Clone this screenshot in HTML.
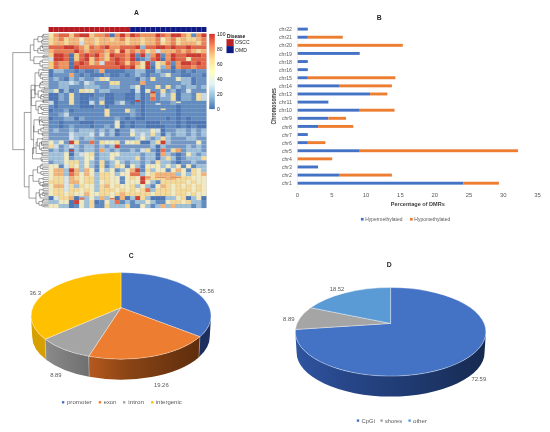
<!DOCTYPE html>
<html lang="en"><head><meta charset="utf-8"><title>Figure</title>
<style>html,body{margin:0;padding:0;background:#fff;}body{width:550px;height:432px;overflow:hidden;}svg{display:block;font-family:"Liberation Sans",sans-serif;}.t{fill:#595959;font-size:5.9px;}.b{font-weight:bold;fill:#262626;}</style></head><body>
<svg width="550" height="432" viewBox="0 0 550 432">
<defs>
<filter id="soft" x="-2%" y="-2%" width="104%" height="104%"><feGaussianBlur stdDeviation="0.45"/></filter>
<linearGradient id="cb" x1="0" y1="0" x2="0" y2="1"><stop offset="0" stop-color="#d73027"/><stop offset="0.167" stop-color="#fc8d59"/><stop offset="0.333" stop-color="#fee090"/><stop offset="0.5" stop-color="#ffffbf"/><stop offset="0.667" stop-color="#e0f3f8"/><stop offset="0.833" stop-color="#91bfdb"/><stop offset="1" stop-color="#4575b4"/></linearGradient>
<linearGradient id="gOr" x1="0" y1="0" x2="1" y2="0"><stop offset="0" stop-color="#b5591d"/><stop offset="0.35" stop-color="#8a4415"/><stop offset="1" stop-color="#5e2d0d"/></linearGradient>
<linearGradient id="gBl" x1="0" y1="0" x2="1" y2="0"><stop offset="0" stop-color="#2f55a0"/><stop offset="0.25" stop-color="#27478a"/><stop offset="0.75" stop-color="#1c3566"/><stop offset="1" stop-color="#16294f"/></linearGradient>
<linearGradient id="gGr" x1="0" y1="0" x2="1" y2="0"><stop offset="0" stop-color="#8a8a8a"/><stop offset="1" stop-color="#6f6f6f"/></linearGradient>
</defs>
<rect width="550" height="432" fill="#fff"/>
<g id="panelA">
<text x="136.4" y="14.7" text-anchor="middle" class="b" font-size="6.8">A</text>
<path d="M48.60 34.38H43.33V36.35H48.60M43.33 35.37H42.31V37.99H48.60M48.60 39.34H42.79V41.31H48.60M42.79 40.32H41.65V43.24H48.60M42.31 36.68H37.90V41.78H41.65M48.60 46.44H42.48V48.10H48.60M48.60 44.80H41.99V47.27H42.48M48.60 49.78H43.05V51.15H48.60M41.99 46.03H40.20V50.47H43.05M40.20 48.25H37.90V53.09H48.60M37.90 39.23H33.90V50.67H37.90M48.60 55.15H43.86V56.52H48.60M43.86 55.83H42.95V57.87H48.60M48.60 59.95H42.21V62.40H48.60M48.60 64.85H42.20V67.30H48.60M42.21 61.17H39.98V66.07H42.20M42.95 56.85H33.90V63.62H39.98M33.90 44.95H30.30V60.24H33.90M48.60 68.92H42.74V70.40H48.60M48.60 72.58H41.22V75.01H48.60M48.60 77.33H42.33V79.33H48.60M41.22 73.80H40.27V78.33H42.33M42.74 69.66H38.81V76.06H40.27M48.60 81.25H42.47V83.10H48.60M42.47 82.17H40.77V84.93H48.60M48.60 87.08H44.13V88.62H48.60M40.77 83.55H39.71V87.85H44.13M48.60 91.09H43.31V92.66H48.60M48.60 89.85H41.71V91.87H43.31M48.60 95.77H43.69V97.43H48.60M48.60 94.39H41.66V96.60H43.69M41.66 95.49H40.62V99.00H48.60M41.71 90.86H38.11V97.25H40.62M39.71 85.70H34.92V94.05H38.11M48.60 101.11H42.95V102.60H48.60M48.60 100.24H43.16V101.86H42.95M48.60 108.57H43.20V110.47H48.60M48.60 106.69H41.46V109.52H43.20M48.60 104.70H40.07V108.11H41.46M48.60 112.45H42.20V114.55H48.60M40.07 106.40H38.17V113.50H42.20M43.16 101.05H35.92V109.95H38.17M34.92 89.88H31.28V105.50H35.92M38.81 72.86H35.00V97.69H31.28M48.60 120.63H42.63V122.58H48.60M48.60 119.01H41.13V121.60H42.63M48.60 124.32H43.07V125.71H48.60M41.13 120.31H39.54V125.02H43.07M48.60 117.03H39.23V122.66H39.54M48.60 127.29H43.18V129.20H48.60M43.18 128.24H40.85V131.17H48.60M48.60 134.02H42.75V135.82H48.60M48.60 132.79H42.26V134.92H42.75M40.85 129.71H38.31V133.86H42.26M39.23 119.85H33.98V131.78H38.31M48.60 137.90H42.40V139.73H48.60M48.60 144.40H42.99V145.87H48.60M48.60 142.94H41.48V145.13H42.99M48.60 141.40H41.46V144.04H41.48M48.60 147.29H43.38V148.65H48.60M43.38 147.97H41.15V150.51H48.60M41.46 142.72H39.45V149.24H41.15M42.40 138.81H37.27V145.98H39.45M48.60 153.84H42.21V155.67H48.60M48.60 152.23H41.79V154.76H42.21M37.27 142.40H36.10V153.49H41.79M48.60 159.22H42.14V161.66H48.60M48.60 157.31H41.17V160.44H42.14M36.10 147.94H32.50V158.87H41.17M33.98 125.81H33.60V153.41H32.50M35.00 85.27H31.00V139.61H33.60M48.60 164.03H41.93V166.09H48.60M48.60 167.71H42.59V169.39H48.60M41.93 165.06H40.37V168.55H42.59M48.60 173.33H43.12V175.32H48.60M48.60 171.56H40.87V174.32H43.12M40.37 166.80H37.46V172.94H40.87M48.60 177.68H43.06V179.63H48.60M48.60 181.51H43.50V183.32H48.60M48.60 185.39H43.02V186.74H48.60M48.60 184.58H42.22V186.06H43.02M43.50 182.41H40.04V185.32H42.22M43.06 178.66H38.95V183.87H40.04M37.46 169.87H33.00V181.26H38.95M48.60 188.72H43.06V190.67H48.60M48.60 192.12H43.33V193.48H48.60M48.60 194.71H44.34V196.07H48.60M43.33 192.80H42.26V195.39H44.34M42.26 194.10H40.14V197.98H48.60M43.06 189.70H39.33V196.04H40.14M48.60 199.31H43.24V201.02H48.60M43.24 200.17H42.29V202.87H48.60M48.60 205.41H43.84V206.89H48.60M48.60 204.24H41.84V206.15H43.84M42.29 201.52H38.95V205.20H41.84M39.33 192.87H36.00V203.36H38.95M33.00 175.57H29.00V198.11H36.00M31.00 112.44H24.30V186.84H29.00M30.30 52.59H12.80V149.64H24.30" stroke="#2e2e2e" stroke-width="0.5" fill="none" stroke-opacity="0.9"/>
<g><rect x="48.60" y="27" width="5.14" height="5" fill="#b81c22"/><rect x="53.69" y="27" width="5.14" height="5" fill="#b81c22"/><rect x="58.78" y="27" width="5.14" height="5" fill="#b81c22"/><rect x="63.87" y="27" width="5.14" height="5" fill="#b81c22"/><rect x="68.96" y="27" width="5.14" height="5" fill="#b81c22"/><rect x="74.05" y="27" width="5.14" height="5" fill="#b81c22"/><rect x="79.14" y="27" width="5.14" height="5" fill="#b81c22"/><rect x="84.23" y="27" width="5.14" height="5" fill="#b81c22"/><rect x="89.32" y="27" width="5.14" height="5" fill="#b81c22"/><rect x="94.41" y="27" width="5.14" height="5" fill="#b81c22"/><rect x="99.50" y="27" width="5.14" height="5" fill="#b81c22"/><rect x="104.59" y="27" width="5.14" height="5" fill="#b81c22"/><rect x="109.68" y="27" width="5.14" height="5" fill="#b81c22"/><rect x="114.77" y="27" width="5.14" height="5" fill="#b81c22"/><rect x="119.86" y="27" width="5.14" height="5" fill="#b81c22"/><rect x="124.95" y="27" width="5.14" height="5" fill="#b81c22"/><rect x="130.05" y="27" width="5.14" height="5" fill="#0e1a86"/><rect x="135.14" y="27" width="5.14" height="5" fill="#0e1a86"/><rect x="140.23" y="27" width="5.14" height="5" fill="#0e1a86"/><rect x="145.32" y="27" width="5.14" height="5" fill="#0e1a86"/><rect x="150.41" y="27" width="5.14" height="5" fill="#0e1a86"/><rect x="155.50" y="27" width="5.14" height="5" fill="#0e1a86"/><rect x="160.59" y="27" width="5.14" height="5" fill="#0e1a86"/><rect x="165.68" y="27" width="5.14" height="5" fill="#0e1a86"/><rect x="170.77" y="27" width="5.14" height="5" fill="#0e1a86"/><rect x="175.86" y="27" width="5.14" height="5" fill="#0e1a86"/><rect x="180.95" y="27" width="5.14" height="5" fill="#0e1a86"/><rect x="186.04" y="27" width="5.14" height="5" fill="#0e1a86"/><rect x="191.13" y="27" width="5.14" height="5" fill="#0e1a86"/><rect x="196.22" y="27" width="5.14" height="5" fill="#0e1a86"/><rect x="201.31" y="27" width="5.14" height="5" fill="#0e1a86"/><path d="M53.69 27V32M58.78 27V32M63.87 27V32M68.96 27V32M74.05 27V32M79.14 27V32M84.23 27V32M89.32 27V32M94.41 27V32M99.50 27V32M104.59 27V32M109.68 27V32M114.77 27V32M119.86 27V32M124.95 27V32M130.05 27V32M135.14 27V32M140.23 27V32M145.32 27V32M150.41 27V32M155.50 27V32M160.59 27V32M165.68 27V32M170.77 27V32M175.86 27V32M180.95 27V32M186.04 27V32M191.13 27V32M196.22 27V32M201.31 27V32" stroke="#c9a0a8" stroke-width="0.4" stroke-opacity="0.6" fill="none"/></g>
<g filter="url(#soft)"><rect x="48.60" y="33.40" width="5.14" height="4.02" fill="#faeaac"/><rect x="53.69" y="33.40" width="5.14" height="4.02" fill="#f79258"/><rect x="58.78" y="33.40" width="10.23" height="4.02" fill="#e96240"/><rect x="68.96" y="33.40" width="5.14" height="4.02" fill="#fcce7e"/><rect x="74.05" y="33.40" width="5.14" height="4.02" fill="#e96240"/><rect x="79.14" y="33.40" width="10.23" height="4.02" fill="#d23228"/><rect x="89.32" y="33.40" width="5.14" height="4.02" fill="#fcce7e"/><rect x="94.41" y="33.40" width="10.23" height="4.02" fill="#f79258"/><rect x="104.59" y="33.40" width="5.14" height="4.02" fill="#e96240"/><rect x="109.68" y="33.40" width="5.14" height="4.02" fill="#4673b6"/><rect x="114.77" y="33.40" width="5.14" height="4.02" fill="#f79258"/><rect x="119.86" y="33.40" width="5.14" height="4.02" fill="#d23228"/><rect x="124.95" y="33.40" width="5.14" height="4.02" fill="#f79258"/><rect x="130.05" y="33.40" width="5.14" height="4.02" fill="#d23228"/><rect x="135.14" y="33.40" width="5.14" height="4.02" fill="#e96240"/><rect x="140.23" y="33.40" width="15.32" height="4.02" fill="#f79258"/><rect x="155.50" y="33.40" width="5.14" height="4.02" fill="#d23228"/><rect x="160.59" y="33.40" width="5.14" height="4.02" fill="#e96240"/><rect x="165.68" y="33.40" width="5.14" height="4.02" fill="#f79258"/><rect x="170.77" y="33.40" width="10.23" height="4.02" fill="#d23228"/><rect x="180.95" y="33.40" width="5.14" height="4.02" fill="#f79258"/><rect x="186.04" y="33.40" width="5.14" height="4.02" fill="#fcce7e"/><rect x="191.13" y="33.40" width="5.14" height="4.02" fill="#5c8ac4"/><rect x="196.22" y="33.40" width="5.14" height="4.02" fill="#f79258"/><rect x="201.31" y="33.40" width="5.14" height="4.02" fill="#d23228"/><rect x="48.60" y="37.37" width="5.14" height="4.02" fill="#fcdc94"/><rect x="53.69" y="37.37" width="5.14" height="4.02" fill="#fab674"/><rect x="58.78" y="37.37" width="5.14" height="4.02" fill="#f07d50"/><rect x="63.87" y="37.37" width="5.14" height="4.02" fill="#fcdc94"/><rect x="68.96" y="37.37" width="10.23" height="4.02" fill="#fab674"/><rect x="79.14" y="37.37" width="5.14" height="4.02" fill="#faf0be"/><rect x="84.23" y="37.37" width="10.23" height="4.02" fill="#fab674"/><rect x="94.41" y="37.37" width="5.14" height="4.02" fill="#fcdc94"/><rect x="99.50" y="37.37" width="10.23" height="4.02" fill="#fab674"/><rect x="109.68" y="37.37" width="5.14" height="4.02" fill="#fcdc94"/><rect x="114.77" y="37.37" width="5.14" height="4.02" fill="#fab674"/><rect x="119.86" y="37.37" width="5.14" height="4.02" fill="#f07d50"/><rect x="124.95" y="37.37" width="5.14" height="4.02" fill="#fcdc94"/><rect x="130.05" y="37.37" width="10.23" height="4.02" fill="#fab674"/><rect x="140.23" y="37.37" width="5.14" height="4.02" fill="#fcdc94"/><rect x="145.32" y="37.37" width="10.23" height="4.02" fill="#fab674"/><rect x="155.50" y="37.37" width="5.14" height="4.02" fill="#f07d50"/><rect x="160.59" y="37.37" width="5.14" height="4.02" fill="#faf0be"/><rect x="165.68" y="37.37" width="5.14" height="4.02" fill="#fab674"/><rect x="170.77" y="37.37" width="5.14" height="4.02" fill="#f07d50"/><rect x="175.86" y="37.37" width="5.14" height="4.02" fill="#fcdc94"/><rect x="180.95" y="37.37" width="5.14" height="4.02" fill="#fab674"/><rect x="186.04" y="37.37" width="10.23" height="4.02" fill="#fcdc94"/><rect x="196.22" y="37.37" width="5.14" height="4.02" fill="#fab674"/><rect x="201.31" y="37.37" width="5.14" height="4.02" fill="#f07d50"/><rect x="48.60" y="41.34" width="5.14" height="4.02" fill="#fcdc94"/><rect x="53.69" y="41.34" width="10.23" height="4.02" fill="#fab674"/><rect x="63.87" y="41.34" width="5.14" height="4.02" fill="#fcdc94"/><rect x="68.96" y="41.34" width="10.23" height="4.02" fill="#fab674"/><rect x="79.14" y="41.34" width="5.14" height="4.02" fill="#d0e3ec"/><rect x="84.23" y="41.34" width="10.23" height="4.02" fill="#fab674"/><rect x="94.41" y="41.34" width="5.14" height="4.02" fill="#fcdc94"/><rect x="99.50" y="41.34" width="25.50" height="4.02" fill="#fab674"/><rect x="124.95" y="41.34" width="5.14" height="4.02" fill="#fcdc94"/><rect x="130.05" y="41.34" width="10.23" height="4.02" fill="#fab674"/><rect x="140.23" y="41.34" width="5.14" height="4.02" fill="#fcdc94"/><rect x="145.32" y="41.34" width="10.23" height="4.02" fill="#fab674"/><rect x="155.50" y="41.34" width="5.14" height="4.02" fill="#f07d50"/><rect x="160.59" y="41.34" width="5.14" height="4.02" fill="#fcdc94"/><rect x="165.68" y="41.34" width="5.14" height="4.02" fill="#fab674"/><rect x="170.77" y="41.34" width="5.14" height="4.02" fill="#f07d50"/><rect x="175.86" y="41.34" width="5.14" height="4.02" fill="#fcdc94"/><rect x="180.95" y="41.34" width="15.32" height="4.02" fill="#fab674"/><rect x="196.22" y="41.34" width="5.14" height="4.02" fill="#fcdc94"/><rect x="201.31" y="41.34" width="5.14" height="4.02" fill="#f07d50"/><rect x="48.60" y="45.30" width="15.32" height="4.02" fill="#e96240"/><rect x="63.87" y="45.30" width="10.23" height="4.02" fill="#d23228"/><rect x="74.05" y="45.30" width="5.14" height="4.02" fill="#e96240"/><rect x="79.14" y="45.30" width="5.14" height="4.02" fill="#f79258"/><rect x="84.23" y="45.30" width="5.14" height="4.02" fill="#fcce7e"/><rect x="89.32" y="45.30" width="5.14" height="4.02" fill="#e96240"/><rect x="94.41" y="45.30" width="5.14" height="4.02" fill="#f79258"/><rect x="99.50" y="45.30" width="5.14" height="4.02" fill="#e96240"/><rect x="104.59" y="45.30" width="5.14" height="4.02" fill="#d23228"/><rect x="109.68" y="45.30" width="10.23" height="4.02" fill="#f79258"/><rect x="119.86" y="45.30" width="15.32" height="4.02" fill="#e96240"/><rect x="135.14" y="45.30" width="5.14" height="4.02" fill="#d23228"/><rect x="140.23" y="45.30" width="5.14" height="4.02" fill="#8eb6d8"/><rect x="145.32" y="45.30" width="10.23" height="4.02" fill="#e96240"/><rect x="155.50" y="45.30" width="10.23" height="4.02" fill="#d23228"/><rect x="165.68" y="45.30" width="5.14" height="4.02" fill="#e96240"/><rect x="170.77" y="45.30" width="5.14" height="4.02" fill="#d23228"/><rect x="175.86" y="45.30" width="10.23" height="4.02" fill="#e96240"/><rect x="186.04" y="45.30" width="5.14" height="4.02" fill="#d23228"/><rect x="191.13" y="45.30" width="15.32" height="4.02" fill="#e96240"/><rect x="48.60" y="49.27" width="5.14" height="4.02" fill="#fab674"/><rect x="53.69" y="49.27" width="20.41" height="4.02" fill="#f07d50"/><rect x="74.05" y="49.27" width="5.14" height="4.02" fill="#d23228"/><rect x="79.14" y="49.27" width="5.14" height="4.02" fill="#f07d50"/><rect x="84.23" y="49.27" width="5.14" height="4.02" fill="#fab674"/><rect x="89.32" y="49.27" width="15.32" height="4.02" fill="#f07d50"/><rect x="104.59" y="49.27" width="5.14" height="4.02" fill="#fab674"/><rect x="109.68" y="49.27" width="5.14" height="4.02" fill="#f07d50"/><rect x="114.77" y="49.27" width="5.14" height="4.02" fill="#fcdc94"/><rect x="119.86" y="49.27" width="5.14" height="4.02" fill="#d23228"/><rect x="124.95" y="49.27" width="5.14" height="4.02" fill="#fab674"/><rect x="130.05" y="49.27" width="5.14" height="4.02" fill="#f07d50"/><rect x="135.14" y="49.27" width="5.14" height="4.02" fill="#fab674"/><rect x="140.23" y="49.27" width="5.14" height="4.02" fill="#f07d50"/><rect x="145.32" y="49.27" width="5.14" height="4.02" fill="#fcdc94"/><rect x="150.41" y="49.27" width="5.14" height="4.02" fill="#fab674"/><rect x="155.50" y="49.27" width="5.14" height="4.02" fill="#d0e3ec"/><rect x="160.59" y="49.27" width="15.32" height="4.02" fill="#fab674"/><rect x="175.86" y="49.27" width="5.14" height="4.02" fill="#f07d50"/><rect x="180.95" y="49.27" width="5.14" height="4.02" fill="#fab674"/><rect x="186.04" y="49.27" width="5.14" height="4.02" fill="#f07d50"/><rect x="191.13" y="49.27" width="5.14" height="4.02" fill="#fab674"/><rect x="196.22" y="49.27" width="5.14" height="4.02" fill="#fcdc94"/><rect x="201.31" y="49.27" width="5.14" height="4.02" fill="#fab674"/><rect x="48.60" y="53.24" width="5.14" height="4.02" fill="#fcce7e"/><rect x="53.69" y="53.24" width="10.23" height="4.02" fill="#d23228"/><rect x="63.87" y="53.24" width="5.14" height="4.02" fill="#e96240"/><rect x="68.96" y="53.24" width="5.14" height="4.02" fill="#4673b6"/><rect x="74.05" y="53.24" width="5.14" height="4.02" fill="#fcce7e"/><rect x="79.14" y="53.24" width="5.14" height="4.02" fill="#e96240"/><rect x="84.23" y="53.24" width="5.14" height="4.02" fill="#d23228"/><rect x="89.32" y="53.24" width="5.14" height="4.02" fill="#e96240"/><rect x="94.41" y="53.24" width="5.14" height="4.02" fill="#d23228"/><rect x="99.50" y="53.24" width="5.14" height="4.02" fill="#f79258"/><rect x="104.59" y="53.24" width="5.14" height="4.02" fill="#fcce7e"/><rect x="109.68" y="53.24" width="5.14" height="4.02" fill="#d23228"/><rect x="114.77" y="53.24" width="10.23" height="4.02" fill="#e96240"/><rect x="124.95" y="53.24" width="5.14" height="4.02" fill="#f79258"/><rect x="130.05" y="53.24" width="5.14" height="4.02" fill="#d23228"/><rect x="135.14" y="53.24" width="5.14" height="4.02" fill="#5c8ac4"/><rect x="140.23" y="53.24" width="5.14" height="4.02" fill="#d23228"/><rect x="145.32" y="53.24" width="5.14" height="4.02" fill="#8eb6d8"/><rect x="150.41" y="53.24" width="5.14" height="4.02" fill="#f79258"/><rect x="155.50" y="53.24" width="5.14" height="4.02" fill="#d23228"/><rect x="160.59" y="53.24" width="5.14" height="4.02" fill="#5c8ac4"/><rect x="165.68" y="53.24" width="5.14" height="4.02" fill="#f79258"/><rect x="170.77" y="53.24" width="5.14" height="4.02" fill="#d23228"/><rect x="175.86" y="53.24" width="10.23" height="4.02" fill="#e96240"/><rect x="186.04" y="53.24" width="15.32" height="4.02" fill="#d23228"/><rect x="201.31" y="53.24" width="5.14" height="4.02" fill="#e96240"/><rect x="48.60" y="57.21" width="5.14" height="4.02" fill="#d0e3ec"/><rect x="53.69" y="57.21" width="10.23" height="4.02" fill="#d23228"/><rect x="63.87" y="57.21" width="5.14" height="4.02" fill="#e96240"/><rect x="68.96" y="57.21" width="5.14" height="4.02" fill="#4673b6"/><rect x="74.05" y="57.21" width="5.14" height="4.02" fill="#fcce7e"/><rect x="79.14" y="57.21" width="5.14" height="4.02" fill="#e96240"/><rect x="84.23" y="57.21" width="5.14" height="4.02" fill="#d23228"/><rect x="89.32" y="57.21" width="5.14" height="4.02" fill="#fcce7e"/><rect x="94.41" y="57.21" width="5.14" height="4.02" fill="#e96240"/><rect x="99.50" y="57.21" width="5.14" height="4.02" fill="#f79258"/><rect x="104.59" y="57.21" width="5.14" height="4.02" fill="#fcce7e"/><rect x="109.68" y="57.21" width="5.14" height="4.02" fill="#e96240"/><rect x="114.77" y="57.21" width="5.14" height="4.02" fill="#d23228"/><rect x="119.86" y="57.21" width="5.14" height="4.02" fill="#e96240"/><rect x="124.95" y="57.21" width="5.14" height="4.02" fill="#f79258"/><rect x="130.05" y="57.21" width="5.14" height="4.02" fill="#d23228"/><rect x="135.14" y="57.21" width="5.14" height="4.02" fill="#4673b6"/><rect x="140.23" y="57.21" width="5.14" height="4.02" fill="#5c8ac4"/><rect x="145.32" y="57.21" width="5.14" height="4.02" fill="#8eb6d8"/><rect x="150.41" y="57.21" width="5.14" height="4.02" fill="#e96240"/><rect x="155.50" y="57.21" width="5.14" height="4.02" fill="#d23228"/><rect x="160.59" y="57.21" width="5.14" height="4.02" fill="#4673b6"/><rect x="165.68" y="57.21" width="5.14" height="4.02" fill="#f79258"/><rect x="170.77" y="57.21" width="5.14" height="4.02" fill="#d23228"/><rect x="175.86" y="57.21" width="10.23" height="4.02" fill="#e96240"/><rect x="186.04" y="57.21" width="5.14" height="4.02" fill="#faeaac"/><rect x="191.13" y="57.21" width="15.32" height="4.02" fill="#e96240"/><rect x="48.60" y="61.18" width="5.14" height="4.02" fill="#fcce7e"/><rect x="53.69" y="61.18" width="5.14" height="4.02" fill="#e96240"/><rect x="58.78" y="61.18" width="10.23" height="4.02" fill="#f79258"/><rect x="68.96" y="61.18" width="5.14" height="4.02" fill="#4673b6"/><rect x="74.05" y="61.18" width="5.14" height="4.02" fill="#e96240"/><rect x="79.14" y="61.18" width="5.14" height="4.02" fill="#d23228"/><rect x="84.23" y="61.18" width="5.14" height="4.02" fill="#e96240"/><rect x="89.32" y="61.18" width="5.14" height="4.02" fill="#fcce7e"/><rect x="94.41" y="61.18" width="5.14" height="4.02" fill="#f79258"/><rect x="99.50" y="61.18" width="5.14" height="4.02" fill="#d0e3ec"/><rect x="104.59" y="61.18" width="10.23" height="4.02" fill="#e96240"/><rect x="114.77" y="61.18" width="5.14" height="4.02" fill="#d23228"/><rect x="119.86" y="61.18" width="5.14" height="4.02" fill="#e96240"/><rect x="124.95" y="61.18" width="5.14" height="4.02" fill="#fcce7e"/><rect x="130.05" y="61.18" width="5.14" height="4.02" fill="#e96240"/><rect x="135.14" y="61.18" width="5.14" height="4.02" fill="#f79258"/><rect x="140.23" y="61.18" width="5.14" height="4.02" fill="#faeaac"/><rect x="145.32" y="61.18" width="5.14" height="4.02" fill="#d23228"/><rect x="150.41" y="61.18" width="5.14" height="4.02" fill="#5c8ac4"/><rect x="155.50" y="61.18" width="5.14" height="4.02" fill="#faeaac"/><rect x="160.59" y="61.18" width="5.14" height="4.02" fill="#fcce7e"/><rect x="165.68" y="61.18" width="5.14" height="4.02" fill="#e96240"/><rect x="170.77" y="61.18" width="5.14" height="4.02" fill="#5c8ac4"/><rect x="175.86" y="61.18" width="5.14" height="4.02" fill="#f79258"/><rect x="180.95" y="61.18" width="10.23" height="4.02" fill="#d23228"/><rect x="191.13" y="61.18" width="5.14" height="4.02" fill="#e96240"/><rect x="196.22" y="61.18" width="5.14" height="4.02" fill="#d23228"/><rect x="201.31" y="61.18" width="5.14" height="4.02" fill="#e96240"/><rect x="48.60" y="65.15" width="5.14" height="4.02" fill="#fcce7e"/><rect x="53.69" y="65.15" width="5.14" height="4.02" fill="#e96240"/><rect x="58.78" y="65.15" width="10.23" height="4.02" fill="#f79258"/><rect x="68.96" y="65.15" width="5.14" height="4.02" fill="#4673b6"/><rect x="74.05" y="65.15" width="5.14" height="4.02" fill="#d23228"/><rect x="79.14" y="65.15" width="40.77" height="4.02" fill="#e96240"/><rect x="119.86" y="65.15" width="5.14" height="4.02" fill="#d23228"/><rect x="124.95" y="65.15" width="5.14" height="4.02" fill="#e96240"/><rect x="130.05" y="65.15" width="5.14" height="4.02" fill="#d23228"/><rect x="135.14" y="65.15" width="5.14" height="4.02" fill="#fcce7e"/><rect x="140.23" y="65.15" width="5.14" height="4.02" fill="#faeaac"/><rect x="145.32" y="65.15" width="5.14" height="4.02" fill="#d23228"/><rect x="150.41" y="65.15" width="5.14" height="4.02" fill="#4673b6"/><rect x="155.50" y="65.15" width="5.14" height="4.02" fill="#faeaac"/><rect x="160.59" y="65.15" width="5.14" height="4.02" fill="#8eb6d8"/><rect x="165.68" y="65.15" width="5.14" height="4.02" fill="#f79258"/><rect x="170.77" y="65.15" width="5.14" height="4.02" fill="#4673b6"/><rect x="175.86" y="65.15" width="5.14" height="4.02" fill="#f79258"/><rect x="180.95" y="65.15" width="10.23" height="4.02" fill="#e96240"/><rect x="191.13" y="65.15" width="5.14" height="4.02" fill="#f79258"/><rect x="196.22" y="65.15" width="10.23" height="4.02" fill="#e96240"/><rect x="48.60" y="69.11" width="5.14" height="4.02" fill="#4c78b9"/><rect x="53.69" y="69.11" width="10.23" height="4.02" fill="#9abfdd"/><rect x="63.87" y="69.11" width="10.23" height="4.02" fill="#6893c8"/><rect x="74.05" y="69.11" width="5.14" height="4.02" fill="#4c78b9"/><rect x="79.14" y="69.11" width="5.14" height="4.02" fill="#6893c8"/><rect x="84.23" y="69.11" width="10.23" height="4.02" fill="#4c78b9"/><rect x="94.41" y="69.11" width="5.14" height="4.02" fill="#6893c8"/><rect x="99.50" y="69.11" width="5.14" height="4.02" fill="#faa666"/><rect x="104.59" y="69.11" width="20.41" height="4.02" fill="#4c78b9"/><rect x="124.95" y="69.11" width="10.23" height="4.02" fill="#6893c8"/><rect x="135.14" y="69.11" width="10.23" height="4.02" fill="#9abfdd"/><rect x="145.32" y="69.11" width="10.23" height="4.02" fill="#4c78b9"/><rect x="155.50" y="69.11" width="5.14" height="4.02" fill="#9abfdd"/><rect x="160.59" y="69.11" width="10.23" height="4.02" fill="#6893c8"/><rect x="170.77" y="69.11" width="5.14" height="4.02" fill="#4c78b9"/><rect x="175.86" y="69.11" width="5.14" height="4.02" fill="#6893c8"/><rect x="180.95" y="69.11" width="5.14" height="4.02" fill="#4c78b9"/><rect x="186.04" y="69.11" width="5.14" height="4.02" fill="#6893c8"/><rect x="191.13" y="69.11" width="5.14" height="4.02" fill="#4c78b9"/><rect x="196.22" y="69.11" width="10.23" height="4.02" fill="#6893c8"/><rect x="48.60" y="73.08" width="5.14" height="4.02" fill="#4c78b9"/><rect x="53.69" y="73.08" width="15.32" height="4.02" fill="#6893c8"/><rect x="68.96" y="73.08" width="5.14" height="4.02" fill="#faa666"/><rect x="74.05" y="73.08" width="5.14" height="4.02" fill="#6893c8"/><rect x="79.14" y="73.08" width="5.14" height="4.02" fill="#4c78b9"/><rect x="84.23" y="73.08" width="5.14" height="4.02" fill="#6893c8"/><rect x="89.32" y="73.08" width="15.32" height="4.02" fill="#4c78b9"/><rect x="104.59" y="73.08" width="5.14" height="4.02" fill="#6893c8"/><rect x="109.68" y="73.08" width="10.23" height="4.02" fill="#4c78b9"/><rect x="119.86" y="73.08" width="5.14" height="4.02" fill="#6893c8"/><rect x="124.95" y="73.08" width="5.14" height="4.02" fill="#4c78b9"/><rect x="130.05" y="73.08" width="5.14" height="4.02" fill="#6893c8"/><rect x="135.14" y="73.08" width="5.14" height="4.02" fill="#9abfdd"/><rect x="140.23" y="73.08" width="5.14" height="4.02" fill="#6893c8"/><rect x="145.32" y="73.08" width="5.14" height="4.02" fill="#4c78b9"/><rect x="150.41" y="73.08" width="10.23" height="4.02" fill="#6893c8"/><rect x="160.59" y="73.08" width="5.14" height="4.02" fill="#9abfdd"/><rect x="165.68" y="73.08" width="5.14" height="4.02" fill="#eeedc4"/><rect x="170.77" y="73.08" width="10.23" height="4.02" fill="#6893c8"/><rect x="180.95" y="73.08" width="10.23" height="4.02" fill="#4c78b9"/><rect x="191.13" y="73.08" width="10.23" height="4.02" fill="#6893c8"/><rect x="201.31" y="73.08" width="5.14" height="4.02" fill="#4c78b9"/><rect x="48.60" y="77.05" width="5.14" height="4.02" fill="#6893c8"/><rect x="53.69" y="77.05" width="5.14" height="4.02" fill="#9abfdd"/><rect x="58.78" y="77.05" width="5.14" height="4.02" fill="#6893c8"/><rect x="63.87" y="77.05" width="5.14" height="4.02" fill="#4c78b9"/><rect x="68.96" y="77.05" width="5.14" height="4.02" fill="#9abfdd"/><rect x="74.05" y="77.05" width="5.14" height="4.02" fill="#6893c8"/><rect x="79.14" y="77.05" width="5.14" height="4.02" fill="#9abfdd"/><rect x="84.23" y="77.05" width="10.23" height="4.02" fill="#6893c8"/><rect x="94.41" y="77.05" width="5.14" height="4.02" fill="#9abfdd"/><rect x="99.50" y="77.05" width="5.14" height="4.02" fill="#f6e2a0"/><rect x="104.59" y="77.05" width="5.14" height="4.02" fill="#eeedc4"/><rect x="109.68" y="77.05" width="25.50" height="4.02" fill="#6893c8"/><rect x="135.14" y="77.05" width="5.14" height="4.02" fill="#4c78b9"/><rect x="140.23" y="77.05" width="5.14" height="4.02" fill="#9abfdd"/><rect x="145.32" y="77.05" width="5.14" height="4.02" fill="#6893c8"/><rect x="150.41" y="77.05" width="5.14" height="4.02" fill="#f6e2a0"/><rect x="155.50" y="77.05" width="20.41" height="4.02" fill="#6893c8"/><rect x="175.86" y="77.05" width="5.14" height="4.02" fill="#eeedc4"/><rect x="180.95" y="77.05" width="10.23" height="4.02" fill="#9abfdd"/><rect x="191.13" y="77.05" width="5.14" height="4.02" fill="#4c78b9"/><rect x="196.22" y="77.05" width="10.23" height="4.02" fill="#6893c8"/><rect x="48.60" y="81.02" width="10.23" height="4.02" fill="#6893c8"/><rect x="58.78" y="81.02" width="10.23" height="4.02" fill="#9abfdd"/><rect x="68.96" y="81.02" width="5.14" height="4.02" fill="#d4e5ee"/><rect x="74.05" y="81.02" width="5.14" height="4.02" fill="#9abfdd"/><rect x="79.14" y="81.02" width="5.14" height="4.02" fill="#6893c8"/><rect x="84.23" y="81.02" width="5.14" height="4.02" fill="#d4e5ee"/><rect x="89.32" y="81.02" width="5.14" height="4.02" fill="#9abfdd"/><rect x="94.41" y="81.02" width="15.32" height="4.02" fill="#6893c8"/><rect x="109.68" y="81.02" width="10.23" height="4.02" fill="#f6e2a0"/><rect x="119.86" y="81.02" width="20.41" height="4.02" fill="#6893c8"/><rect x="140.23" y="81.02" width="5.14" height="4.02" fill="#faa666"/><rect x="145.32" y="81.02" width="35.68" height="4.02" fill="#6893c8"/><rect x="180.95" y="81.02" width="10.23" height="4.02" fill="#9abfdd"/><rect x="191.13" y="81.02" width="5.14" height="4.02" fill="#4c78b9"/><rect x="196.22" y="81.02" width="10.23" height="4.02" fill="#6893c8"/><rect x="48.60" y="84.99" width="10.23" height="4.02" fill="#6893c8"/><rect x="58.78" y="84.99" width="10.23" height="4.02" fill="#9abfdd"/><rect x="68.96" y="84.99" width="15.32" height="4.02" fill="#6893c8"/><rect x="84.23" y="84.99" width="15.32" height="4.02" fill="#9abfdd"/><rect x="99.50" y="84.99" width="10.23" height="4.02" fill="#6893c8"/><rect x="109.68" y="84.99" width="10.23" height="4.02" fill="#9abfdd"/><rect x="119.86" y="84.99" width="10.23" height="4.02" fill="#6893c8"/><rect x="130.05" y="84.99" width="5.14" height="4.02" fill="#9abfdd"/><rect x="135.14" y="84.99" width="5.14" height="4.02" fill="#eeedc4"/><rect x="140.23" y="84.99" width="5.14" height="4.02" fill="#4c78b9"/><rect x="145.32" y="84.99" width="10.23" height="4.02" fill="#6893c8"/><rect x="155.50" y="84.99" width="5.14" height="4.02" fill="#f6e2a0"/><rect x="160.59" y="84.99" width="5.14" height="4.02" fill="#6893c8"/><rect x="165.68" y="84.99" width="5.14" height="4.02" fill="#f6e2a0"/><rect x="170.77" y="84.99" width="5.14" height="4.02" fill="#6893c8"/><rect x="175.86" y="84.99" width="5.14" height="4.02" fill="#9abfdd"/><rect x="180.95" y="84.99" width="5.14" height="4.02" fill="#6893c8"/><rect x="186.04" y="84.99" width="10.23" height="4.02" fill="#9abfdd"/><rect x="196.22" y="84.99" width="5.14" height="4.02" fill="#6893c8"/><rect x="201.31" y="84.99" width="5.14" height="4.02" fill="#9abfdd"/><rect x="48.60" y="88.95" width="5.14" height="4.02" fill="#9abfdd"/><rect x="53.69" y="88.95" width="5.14" height="4.02" fill="#eeedc4"/><rect x="58.78" y="88.95" width="5.14" height="4.02" fill="#4c78b9"/><rect x="63.87" y="88.95" width="5.14" height="4.02" fill="#9abfdd"/><rect x="68.96" y="88.95" width="5.14" height="4.02" fill="#4c78b9"/><rect x="74.05" y="88.95" width="5.14" height="4.02" fill="#6893c8"/><rect x="79.14" y="88.95" width="5.14" height="4.02" fill="#f6e2a0"/><rect x="84.23" y="88.95" width="10.23" height="4.02" fill="#eeedc4"/><rect x="94.41" y="88.95" width="5.14" height="4.02" fill="#6893c8"/><rect x="99.50" y="88.95" width="10.23" height="4.02" fill="#9abfdd"/><rect x="109.68" y="88.95" width="20.41" height="4.02" fill="#6893c8"/><rect x="130.05" y="88.95" width="5.14" height="4.02" fill="#4c78b9"/><rect x="135.14" y="88.95" width="5.14" height="4.02" fill="#d4e5ee"/><rect x="140.23" y="88.95" width="5.14" height="4.02" fill="#4c78b9"/><rect x="145.32" y="88.95" width="5.14" height="4.02" fill="#eeedc4"/><rect x="150.41" y="88.95" width="10.23" height="4.02" fill="#6893c8"/><rect x="160.59" y="88.95" width="5.14" height="4.02" fill="#f6e2a0"/><rect x="165.68" y="88.95" width="5.14" height="4.02" fill="#6893c8"/><rect x="170.77" y="88.95" width="5.14" height="4.02" fill="#9abfdd"/><rect x="175.86" y="88.95" width="5.14" height="4.02" fill="#4c78b9"/><rect x="180.95" y="88.95" width="5.14" height="4.02" fill="#6893c8"/><rect x="186.04" y="88.95" width="5.14" height="4.02" fill="#d4e5ee"/><rect x="191.13" y="88.95" width="15.32" height="4.02" fill="#6893c8"/><rect x="48.60" y="92.92" width="10.23" height="4.02" fill="#4673b6"/><rect x="58.78" y="92.92" width="5.14" height="4.02" fill="#84add4"/><rect x="63.87" y="92.92" width="5.14" height="4.02" fill="#5c8ac4"/><rect x="68.96" y="92.92" width="5.14" height="4.02" fill="#f6e2a0"/><rect x="74.05" y="92.92" width="5.14" height="4.02" fill="#5c8ac4"/><rect x="79.14" y="92.92" width="15.32" height="4.02" fill="#4673b6"/><rect x="94.41" y="92.92" width="10.23" height="4.02" fill="#5c8ac4"/><rect x="104.59" y="92.92" width="10.23" height="4.02" fill="#4673b6"/><rect x="114.77" y="92.92" width="10.23" height="4.02" fill="#5c8ac4"/><rect x="124.95" y="92.92" width="10.23" height="4.02" fill="#4673b6"/><rect x="135.14" y="92.92" width="5.14" height="4.02" fill="#84add4"/><rect x="140.23" y="92.92" width="5.14" height="4.02" fill="#4673b6"/><rect x="145.32" y="92.92" width="5.14" height="4.02" fill="#5c8ac4"/><rect x="150.41" y="92.92" width="5.14" height="4.02" fill="#faa666"/><rect x="155.50" y="92.92" width="5.14" height="4.02" fill="#5c8ac4"/><rect x="160.59" y="92.92" width="5.14" height="4.02" fill="#c8dde9"/><rect x="165.68" y="92.92" width="5.14" height="4.02" fill="#84add4"/><rect x="170.77" y="92.92" width="5.14" height="4.02" fill="#f6e2a0"/><rect x="175.86" y="92.92" width="5.14" height="4.02" fill="#4673b6"/><rect x="180.95" y="92.92" width="10.23" height="4.02" fill="#84add4"/><rect x="191.13" y="92.92" width="5.14" height="4.02" fill="#5c8ac4"/><rect x="196.22" y="92.92" width="5.14" height="4.02" fill="#f6e2a0"/><rect x="201.31" y="92.92" width="5.14" height="4.02" fill="#c8dde9"/><rect x="48.60" y="96.89" width="10.23" height="4.02" fill="#4673b6"/><rect x="58.78" y="96.89" width="5.14" height="4.02" fill="#84add4"/><rect x="63.87" y="96.89" width="5.14" height="4.02" fill="#5c8ac4"/><rect x="68.96" y="96.89" width="5.14" height="4.02" fill="#f6e2a0"/><rect x="74.05" y="96.89" width="5.14" height="4.02" fill="#5c8ac4"/><rect x="79.14" y="96.89" width="10.23" height="4.02" fill="#4673b6"/><rect x="89.32" y="96.89" width="10.23" height="4.02" fill="#5c8ac4"/><rect x="99.50" y="96.89" width="5.14" height="4.02" fill="#84add4"/><rect x="104.59" y="96.89" width="10.23" height="4.02" fill="#4673b6"/><rect x="114.77" y="96.89" width="10.23" height="4.02" fill="#5c8ac4"/><rect x="124.95" y="96.89" width="10.23" height="4.02" fill="#4673b6"/><rect x="135.14" y="96.89" width="5.14" height="4.02" fill="#84add4"/><rect x="140.23" y="96.89" width="5.14" height="4.02" fill="#4673b6"/><rect x="145.32" y="96.89" width="5.14" height="4.02" fill="#5c8ac4"/><rect x="150.41" y="96.89" width="5.14" height="4.02" fill="#ee6c46"/><rect x="155.50" y="96.89" width="5.14" height="4.02" fill="#5c8ac4"/><rect x="160.59" y="96.89" width="10.23" height="4.02" fill="#84add4"/><rect x="170.77" y="96.89" width="5.14" height="4.02" fill="#f6e2a0"/><rect x="175.86" y="96.89" width="5.14" height="4.02" fill="#4673b6"/><rect x="180.95" y="96.89" width="10.23" height="4.02" fill="#84add4"/><rect x="191.13" y="96.89" width="5.14" height="4.02" fill="#5c8ac4"/><rect x="196.22" y="96.89" width="5.14" height="4.02" fill="#f6e2a0"/><rect x="201.31" y="96.89" width="5.14" height="4.02" fill="#c8dde9"/><rect x="48.60" y="100.86" width="5.14" height="4.02" fill="#c8dde9"/><rect x="53.69" y="100.86" width="5.14" height="4.02" fill="#4673b6"/><rect x="58.78" y="100.86" width="10.23" height="4.02" fill="#5c8ac4"/><rect x="68.96" y="100.86" width="5.14" height="4.02" fill="#f6e2a0"/><rect x="74.05" y="100.86" width="5.14" height="4.02" fill="#5c8ac4"/><rect x="79.14" y="100.86" width="10.23" height="4.02" fill="#4673b6"/><rect x="89.32" y="100.86" width="5.14" height="4.02" fill="#c8dde9"/><rect x="94.41" y="100.86" width="5.14" height="4.02" fill="#5c8ac4"/><rect x="99.50" y="100.86" width="5.14" height="4.02" fill="#f6e2a0"/><rect x="104.59" y="100.86" width="10.23" height="4.02" fill="#4673b6"/><rect x="114.77" y="100.86" width="5.14" height="4.02" fill="#84add4"/><rect x="119.86" y="100.86" width="5.14" height="4.02" fill="#c8dde9"/><rect x="124.95" y="100.86" width="5.14" height="4.02" fill="#5c8ac4"/><rect x="130.05" y="100.86" width="5.14" height="4.02" fill="#4673b6"/><rect x="135.14" y="100.86" width="5.14" height="4.02" fill="#5c8ac4"/><rect x="140.23" y="100.86" width="5.14" height="4.02" fill="#4673b6"/><rect x="145.32" y="100.86" width="25.50" height="4.02" fill="#5c8ac4"/><rect x="170.77" y="100.86" width="5.14" height="4.02" fill="#84add4"/><rect x="175.86" y="100.86" width="30.59" height="4.02" fill="#5c8ac4"/><rect x="48.60" y="104.83" width="5.14" height="4.02" fill="#5c8ac4"/><rect x="53.69" y="104.83" width="5.14" height="4.02" fill="#4673b6"/><rect x="58.78" y="104.83" width="20.41" height="4.02" fill="#5c8ac4"/><rect x="79.14" y="104.83" width="15.32" height="4.02" fill="#4673b6"/><rect x="94.41" y="104.83" width="10.23" height="4.02" fill="#5c8ac4"/><rect x="104.59" y="104.83" width="5.14" height="4.02" fill="#4673b6"/><rect x="109.68" y="104.83" width="30.59" height="4.02" fill="#5c8ac4"/><rect x="140.23" y="104.83" width="5.14" height="4.02" fill="#4673b6"/><rect x="145.32" y="104.83" width="30.59" height="4.02" fill="#5c8ac4"/><rect x="175.86" y="104.83" width="5.14" height="4.02" fill="#4673b6"/><rect x="180.95" y="104.83" width="25.50" height="4.02" fill="#5c8ac4"/><rect x="48.60" y="108.80" width="5.14" height="4.02" fill="#4673b6"/><rect x="53.69" y="108.80" width="10.23" height="4.02" fill="#5c8ac4"/><rect x="63.87" y="108.80" width="5.14" height="4.02" fill="#84add4"/><rect x="68.96" y="108.80" width="5.14" height="4.02" fill="#4673b6"/><rect x="74.05" y="108.80" width="30.59" height="4.02" fill="#5c8ac4"/><rect x="104.59" y="108.80" width="5.14" height="4.02" fill="#f6e2a0"/><rect x="109.68" y="108.80" width="15.32" height="4.02" fill="#5c8ac4"/><rect x="124.95" y="108.80" width="5.14" height="4.02" fill="#f6e2a0"/><rect x="130.05" y="108.80" width="5.14" height="4.02" fill="#84add4"/><rect x="135.14" y="108.80" width="5.14" height="4.02" fill="#5c8ac4"/><rect x="140.23" y="108.80" width="5.14" height="4.02" fill="#4673b6"/><rect x="145.32" y="108.80" width="30.59" height="4.02" fill="#5c8ac4"/><rect x="175.86" y="108.80" width="5.14" height="4.02" fill="#4673b6"/><rect x="180.95" y="108.80" width="25.50" height="4.02" fill="#5c8ac4"/><rect x="48.60" y="112.76" width="10.23" height="4.02" fill="#5c8ac4"/><rect x="58.78" y="112.76" width="5.14" height="4.02" fill="#84add4"/><rect x="63.87" y="112.76" width="5.14" height="4.02" fill="#c8dde9"/><rect x="68.96" y="112.76" width="35.68" height="4.02" fill="#5c8ac4"/><rect x="104.59" y="112.76" width="5.14" height="4.02" fill="#f6e2a0"/><rect x="109.68" y="112.76" width="20.41" height="4.02" fill="#5c8ac4"/><rect x="130.05" y="112.76" width="5.14" height="4.02" fill="#84add4"/><rect x="135.14" y="112.76" width="5.14" height="4.02" fill="#5c8ac4"/><rect x="140.23" y="112.76" width="5.14" height="4.02" fill="#4673b6"/><rect x="145.32" y="112.76" width="30.59" height="4.02" fill="#5c8ac4"/><rect x="175.86" y="112.76" width="5.14" height="4.02" fill="#4673b6"/><rect x="180.95" y="112.76" width="25.50" height="4.02" fill="#5c8ac4"/><rect x="48.60" y="116.73" width="5.14" height="4.02" fill="#4673b6"/><rect x="53.69" y="116.73" width="10.23" height="4.02" fill="#5c8ac4"/><rect x="63.87" y="116.73" width="10.23" height="4.02" fill="#84add4"/><rect x="74.05" y="116.73" width="5.14" height="4.02" fill="#4673b6"/><rect x="79.14" y="116.73" width="5.14" height="4.02" fill="#84add4"/><rect x="84.23" y="116.73" width="30.59" height="4.02" fill="#5c8ac4"/><rect x="114.77" y="116.73" width="5.14" height="4.02" fill="#84add4"/><rect x="119.86" y="116.73" width="5.14" height="4.02" fill="#5c8ac4"/><rect x="124.95" y="116.73" width="5.14" height="4.02" fill="#4673b6"/><rect x="130.05" y="116.73" width="5.14" height="4.02" fill="#5c8ac4"/><rect x="135.14" y="116.73" width="10.23" height="4.02" fill="#4673b6"/><rect x="145.32" y="116.73" width="20.41" height="4.02" fill="#5c8ac4"/><rect x="165.68" y="116.73" width="5.14" height="4.02" fill="#4673b6"/><rect x="170.77" y="116.73" width="5.14" height="4.02" fill="#5c8ac4"/><rect x="175.86" y="116.73" width="5.14" height="4.02" fill="#4673b6"/><rect x="180.95" y="116.73" width="5.14" height="4.02" fill="#5c8ac4"/><rect x="186.04" y="116.73" width="5.14" height="4.02" fill="#4673b6"/><rect x="191.13" y="116.73" width="15.32" height="4.02" fill="#5c8ac4"/><rect x="48.60" y="120.70" width="10.23" height="4.02" fill="#5c8ac4"/><rect x="58.78" y="120.70" width="5.14" height="4.02" fill="#4673b6"/><rect x="63.87" y="120.70" width="15.32" height="4.02" fill="#5c8ac4"/><rect x="79.14" y="120.70" width="15.32" height="4.02" fill="#4673b6"/><rect x="94.41" y="120.70" width="20.41" height="4.02" fill="#5c8ac4"/><rect x="114.77" y="120.70" width="5.14" height="4.02" fill="#eeedc4"/><rect x="119.86" y="120.70" width="5.14" height="4.02" fill="#4673b6"/><rect x="124.95" y="120.70" width="5.14" height="4.02" fill="#5c8ac4"/><rect x="130.05" y="120.70" width="5.14" height="4.02" fill="#4673b6"/><rect x="135.14" y="120.70" width="10.23" height="4.02" fill="#5c8ac4"/><rect x="145.32" y="120.70" width="15.32" height="4.02" fill="#4673b6"/><rect x="160.59" y="120.70" width="15.32" height="4.02" fill="#5c8ac4"/><rect x="175.86" y="120.70" width="5.14" height="4.02" fill="#4673b6"/><rect x="180.95" y="120.70" width="5.14" height="4.02" fill="#5c8ac4"/><rect x="186.04" y="120.70" width="20.41" height="4.02" fill="#4673b6"/><rect x="48.60" y="124.67" width="10.23" height="4.02" fill="#5c8ac4"/><rect x="58.78" y="124.67" width="5.14" height="4.02" fill="#4673b6"/><rect x="63.87" y="124.67" width="5.14" height="4.02" fill="#5c8ac4"/><rect x="68.96" y="124.67" width="5.14" height="4.02" fill="#84add4"/><rect x="74.05" y="124.67" width="15.32" height="4.02" fill="#5c8ac4"/><rect x="89.32" y="124.67" width="5.14" height="4.02" fill="#4673b6"/><rect x="94.41" y="124.67" width="10.23" height="4.02" fill="#5c8ac4"/><rect x="104.59" y="124.67" width="5.14" height="4.02" fill="#84add4"/><rect x="109.68" y="124.67" width="5.14" height="4.02" fill="#5c8ac4"/><rect x="114.77" y="124.67" width="5.14" height="4.02" fill="#eeedc4"/><rect x="119.86" y="124.67" width="5.14" height="4.02" fill="#4673b6"/><rect x="124.95" y="124.67" width="5.14" height="4.02" fill="#5c8ac4"/><rect x="130.05" y="124.67" width="5.14" height="4.02" fill="#4673b6"/><rect x="135.14" y="124.67" width="10.23" height="4.02" fill="#5c8ac4"/><rect x="145.32" y="124.67" width="20.41" height="4.02" fill="#4673b6"/><rect x="165.68" y="124.67" width="10.23" height="4.02" fill="#5c8ac4"/><rect x="175.86" y="124.67" width="5.14" height="4.02" fill="#4673b6"/><rect x="180.95" y="124.67" width="5.14" height="4.02" fill="#5c8ac4"/><rect x="186.04" y="124.67" width="5.14" height="4.02" fill="#4673b6"/><rect x="191.13" y="124.67" width="5.14" height="4.02" fill="#5c8ac4"/><rect x="196.22" y="124.67" width="10.23" height="4.02" fill="#4673b6"/><rect x="48.60" y="128.64" width="5.14" height="4.02" fill="#7098cb"/><rect x="53.69" y="128.64" width="5.14" height="4.02" fill="#a0c4e0"/><rect x="58.78" y="128.64" width="10.23" height="4.02" fill="#7098cb"/><rect x="68.96" y="128.64" width="5.14" height="4.02" fill="#a0c4e0"/><rect x="74.05" y="128.64" width="5.14" height="4.02" fill="#7098cb"/><rect x="79.14" y="128.64" width="15.32" height="4.02" fill="#a0c4e0"/><rect x="94.41" y="128.64" width="5.14" height="4.02" fill="#7098cb"/><rect x="99.50" y="128.64" width="5.14" height="4.02" fill="#a0c4e0"/><rect x="104.59" y="128.64" width="5.14" height="4.02" fill="#7098cb"/><rect x="109.68" y="128.64" width="5.14" height="4.02" fill="#a0c4e0"/><rect x="114.77" y="128.64" width="5.14" height="4.02" fill="#4673b6"/><rect x="119.86" y="128.64" width="10.23" height="4.02" fill="#7098cb"/><rect x="130.05" y="128.64" width="5.14" height="4.02" fill="#d6e6ee"/><rect x="135.14" y="128.64" width="15.32" height="4.02" fill="#a0c4e0"/><rect x="150.41" y="128.64" width="5.14" height="4.02" fill="#f4f0c4"/><rect x="155.50" y="128.64" width="5.14" height="4.02" fill="#d6e6ee"/><rect x="160.59" y="128.64" width="5.14" height="4.02" fill="#4673b6"/><rect x="165.68" y="128.64" width="10.23" height="4.02" fill="#7098cb"/><rect x="175.86" y="128.64" width="10.23" height="4.02" fill="#a0c4e0"/><rect x="186.04" y="128.64" width="5.14" height="4.02" fill="#7098cb"/><rect x="191.13" y="128.64" width="5.14" height="4.02" fill="#a0c4e0"/><rect x="196.22" y="128.64" width="5.14" height="4.02" fill="#7098cb"/><rect x="201.31" y="128.64" width="5.14" height="4.02" fill="#a0c4e0"/><rect x="48.60" y="132.60" width="20.41" height="4.02" fill="#7098cb"/><rect x="68.96" y="132.60" width="5.14" height="4.02" fill="#d6e6ee"/><rect x="74.05" y="132.60" width="15.32" height="4.02" fill="#a0c4e0"/><rect x="89.32" y="132.60" width="5.14" height="4.02" fill="#d6e6ee"/><rect x="94.41" y="132.60" width="5.14" height="4.02" fill="#7098cb"/><rect x="99.50" y="132.60" width="5.14" height="4.02" fill="#d6e6ee"/><rect x="104.59" y="132.60" width="5.14" height="4.02" fill="#7098cb"/><rect x="109.68" y="132.60" width="5.14" height="4.02" fill="#a0c4e0"/><rect x="114.77" y="132.60" width="5.14" height="4.02" fill="#4673b6"/><rect x="119.86" y="132.60" width="10.23" height="4.02" fill="#7098cb"/><rect x="130.05" y="132.60" width="5.14" height="4.02" fill="#f4f0c4"/><rect x="135.14" y="132.60" width="5.14" height="4.02" fill="#a0c4e0"/><rect x="140.23" y="132.60" width="5.14" height="4.02" fill="#d6e6ee"/><rect x="145.32" y="132.60" width="5.14" height="4.02" fill="#a0c4e0"/><rect x="150.41" y="132.60" width="5.14" height="4.02" fill="#f9e09a"/><rect x="155.50" y="132.60" width="5.14" height="4.02" fill="#a0c4e0"/><rect x="160.59" y="132.60" width="5.14" height="4.02" fill="#4673b6"/><rect x="165.68" y="132.60" width="5.14" height="4.02" fill="#a0c4e0"/><rect x="170.77" y="132.60" width="5.14" height="4.02" fill="#7098cb"/><rect x="175.86" y="132.60" width="10.23" height="4.02" fill="#a0c4e0"/><rect x="186.04" y="132.60" width="5.14" height="4.02" fill="#7098cb"/><rect x="191.13" y="132.60" width="5.14" height="4.02" fill="#a0c4e0"/><rect x="196.22" y="132.60" width="5.14" height="4.02" fill="#7098cb"/><rect x="201.31" y="132.60" width="5.14" height="4.02" fill="#a0c4e0"/><rect x="48.60" y="136.57" width="20.41" height="4.02" fill="#7098cb"/><rect x="68.96" y="136.57" width="5.14" height="4.02" fill="#d6e6ee"/><rect x="74.05" y="136.57" width="5.14" height="4.02" fill="#a0c4e0"/><rect x="79.14" y="136.57" width="5.14" height="4.02" fill="#7098cb"/><rect x="84.23" y="136.57" width="10.23" height="4.02" fill="#a0c4e0"/><rect x="94.41" y="136.57" width="40.77" height="4.02" fill="#7098cb"/><rect x="135.14" y="136.57" width="5.14" height="4.02" fill="#a0c4e0"/><rect x="140.23" y="136.57" width="5.14" height="4.02" fill="#f4f0c4"/><rect x="145.32" y="136.57" width="5.14" height="4.02" fill="#a0c4e0"/><rect x="150.41" y="136.57" width="5.14" height="4.02" fill="#7098cb"/><rect x="155.50" y="136.57" width="5.14" height="4.02" fill="#a0c4e0"/><rect x="160.59" y="136.57" width="5.14" height="4.02" fill="#f9e09a"/><rect x="165.68" y="136.57" width="5.14" height="4.02" fill="#a0c4e0"/><rect x="170.77" y="136.57" width="15.32" height="4.02" fill="#7098cb"/><rect x="186.04" y="136.57" width="10.23" height="4.02" fill="#a0c4e0"/><rect x="196.22" y="136.57" width="10.23" height="4.02" fill="#7098cb"/><rect x="48.60" y="140.54" width="5.14" height="4.02" fill="#f4f0c4"/><rect x="53.69" y="140.54" width="5.14" height="4.02" fill="#a0c4e0"/><rect x="58.78" y="140.54" width="5.14" height="4.02" fill="#f4f0c4"/><rect x="63.87" y="140.54" width="5.14" height="4.02" fill="#7098cb"/><rect x="68.96" y="140.54" width="5.14" height="4.02" fill="#d4382a"/><rect x="74.05" y="140.54" width="5.14" height="4.02" fill="#f9e09a"/><rect x="79.14" y="140.54" width="10.23" height="4.02" fill="#7098cb"/><rect x="89.32" y="140.54" width="5.14" height="4.02" fill="#ee6c46"/><rect x="94.41" y="140.54" width="5.14" height="4.02" fill="#7098cb"/><rect x="99.50" y="140.54" width="5.14" height="4.02" fill="#f9e09a"/><rect x="104.59" y="140.54" width="10.23" height="4.02" fill="#f4f0c4"/><rect x="114.77" y="140.54" width="5.14" height="4.02" fill="#f9e09a"/><rect x="119.86" y="140.54" width="5.14" height="4.02" fill="#7098cb"/><rect x="124.95" y="140.54" width="10.23" height="4.02" fill="#f4f0c4"/><rect x="135.14" y="140.54" width="5.14" height="4.02" fill="#f9e09a"/><rect x="140.23" y="140.54" width="10.23" height="4.02" fill="#4673b6"/><rect x="150.41" y="140.54" width="5.14" height="4.02" fill="#a0c4e0"/><rect x="155.50" y="140.54" width="5.14" height="4.02" fill="#f9e09a"/><rect x="160.59" y="140.54" width="5.14" height="4.02" fill="#d4382a"/><rect x="165.68" y="140.54" width="5.14" height="4.02" fill="#a0c4e0"/><rect x="170.77" y="140.54" width="25.50" height="4.02" fill="#7098cb"/><rect x="196.22" y="140.54" width="5.14" height="4.02" fill="#f4f0c4"/><rect x="201.31" y="140.54" width="5.14" height="4.02" fill="#7098cb"/><rect x="48.60" y="144.51" width="5.14" height="4.02" fill="#f9e09a"/><rect x="53.69" y="144.51" width="5.14" height="4.02" fill="#d6e6ee"/><rect x="58.78" y="144.51" width="5.14" height="4.02" fill="#7098cb"/><rect x="63.87" y="144.51" width="5.14" height="4.02" fill="#a0c4e0"/><rect x="68.96" y="144.51" width="5.14" height="4.02" fill="#d6e6ee"/><rect x="74.05" y="144.51" width="5.14" height="4.02" fill="#a0c4e0"/><rect x="79.14" y="144.51" width="5.14" height="4.02" fill="#7098cb"/><rect x="84.23" y="144.51" width="10.23" height="4.02" fill="#a0c4e0"/><rect x="94.41" y="144.51" width="5.14" height="4.02" fill="#7098cb"/><rect x="99.50" y="144.51" width="5.14" height="4.02" fill="#a0c4e0"/><rect x="104.59" y="144.51" width="5.14" height="4.02" fill="#7098cb"/><rect x="109.68" y="144.51" width="5.14" height="4.02" fill="#a0c4e0"/><rect x="114.77" y="144.51" width="5.14" height="4.02" fill="#d4382a"/><rect x="119.86" y="144.51" width="30.59" height="4.02" fill="#7098cb"/><rect x="150.41" y="144.51" width="5.14" height="4.02" fill="#a0c4e0"/><rect x="155.50" y="144.51" width="5.14" height="4.02" fill="#4673b6"/><rect x="160.59" y="144.51" width="5.14" height="4.02" fill="#a0c4e0"/><rect x="165.68" y="144.51" width="20.41" height="4.02" fill="#7098cb"/><rect x="186.04" y="144.51" width="5.14" height="4.02" fill="#a0c4e0"/><rect x="191.13" y="144.51" width="5.14" height="4.02" fill="#7098cb"/><rect x="196.22" y="144.51" width="5.14" height="4.02" fill="#a0c4e0"/><rect x="201.31" y="144.51" width="5.14" height="4.02" fill="#7098cb"/><rect x="48.60" y="148.48" width="5.14" height="4.02" fill="#7098cb"/><rect x="53.69" y="148.48" width="5.14" height="4.02" fill="#a0c4e0"/><rect x="58.78" y="148.48" width="5.14" height="4.02" fill="#7098cb"/><rect x="63.87" y="148.48" width="5.14" height="4.02" fill="#a0c4e0"/><rect x="68.96" y="148.48" width="5.14" height="4.02" fill="#4673b6"/><rect x="74.05" y="148.48" width="5.14" height="4.02" fill="#a0c4e0"/><rect x="79.14" y="148.48" width="5.14" height="4.02" fill="#7098cb"/><rect x="84.23" y="148.48" width="10.23" height="4.02" fill="#a0c4e0"/><rect x="94.41" y="148.48" width="5.14" height="4.02" fill="#7098cb"/><rect x="99.50" y="148.48" width="5.14" height="4.02" fill="#faa666"/><rect x="104.59" y="148.48" width="5.14" height="4.02" fill="#a0c4e0"/><rect x="109.68" y="148.48" width="5.14" height="4.02" fill="#7098cb"/><rect x="114.77" y="148.48" width="5.14" height="4.02" fill="#a0c4e0"/><rect x="119.86" y="148.48" width="10.23" height="4.02" fill="#7098cb"/><rect x="130.05" y="148.48" width="5.14" height="4.02" fill="#a0c4e0"/><rect x="135.14" y="148.48" width="5.14" height="4.02" fill="#7098cb"/><rect x="140.23" y="148.48" width="5.14" height="4.02" fill="#d6e6ee"/><rect x="145.32" y="148.48" width="5.14" height="4.02" fill="#f9e09a"/><rect x="150.41" y="148.48" width="5.14" height="4.02" fill="#7098cb"/><rect x="155.50" y="148.48" width="5.14" height="4.02" fill="#4673b6"/><rect x="160.59" y="148.48" width="5.14" height="4.02" fill="#ee6c46"/><rect x="165.68" y="148.48" width="5.14" height="4.02" fill="#7098cb"/><rect x="170.77" y="148.48" width="5.14" height="4.02" fill="#f9e09a"/><rect x="175.86" y="148.48" width="5.14" height="4.02" fill="#faa666"/><rect x="180.95" y="148.48" width="5.14" height="4.02" fill="#7098cb"/><rect x="186.04" y="148.48" width="15.32" height="4.02" fill="#a0c4e0"/><rect x="201.31" y="148.48" width="5.14" height="4.02" fill="#7098cb"/><rect x="48.60" y="152.45" width="15.32" height="4.02" fill="#a0c4e0"/><rect x="63.87" y="152.45" width="5.14" height="4.02" fill="#f4f0c4"/><rect x="68.96" y="152.45" width="5.14" height="4.02" fill="#4673b6"/><rect x="74.05" y="152.45" width="5.14" height="4.02" fill="#a0c4e0"/><rect x="79.14" y="152.45" width="5.14" height="4.02" fill="#d6e6ee"/><rect x="84.23" y="152.45" width="5.14" height="4.02" fill="#f4f0c4"/><rect x="89.32" y="152.45" width="5.14" height="4.02" fill="#f9e09a"/><rect x="94.41" y="152.45" width="5.14" height="4.02" fill="#7098cb"/><rect x="99.50" y="152.45" width="10.23" height="4.02" fill="#a0c4e0"/><rect x="109.68" y="152.45" width="10.23" height="4.02" fill="#f4f0c4"/><rect x="119.86" y="152.45" width="20.41" height="4.02" fill="#a0c4e0"/><rect x="140.23" y="152.45" width="5.14" height="4.02" fill="#7098cb"/><rect x="145.32" y="152.45" width="10.23" height="4.02" fill="#a0c4e0"/><rect x="155.50" y="152.45" width="5.14" height="4.02" fill="#4673b6"/><rect x="160.59" y="152.45" width="5.14" height="4.02" fill="#faa666"/><rect x="165.68" y="152.45" width="5.14" height="4.02" fill="#a0c4e0"/><rect x="170.77" y="152.45" width="5.14" height="4.02" fill="#7098cb"/><rect x="175.86" y="152.45" width="5.14" height="4.02" fill="#4673b6"/><rect x="180.95" y="152.45" width="5.14" height="4.02" fill="#7098cb"/><rect x="186.04" y="152.45" width="5.14" height="4.02" fill="#f4f0c4"/><rect x="191.13" y="152.45" width="5.14" height="4.02" fill="#a0c4e0"/><rect x="196.22" y="152.45" width="5.14" height="4.02" fill="#7098cb"/><rect x="201.31" y="152.45" width="5.14" height="4.02" fill="#a0c4e0"/><rect x="48.60" y="156.41" width="15.32" height="4.02" fill="#a0c4e0"/><rect x="63.87" y="156.41" width="5.14" height="4.02" fill="#f4f0c4"/><rect x="68.96" y="156.41" width="5.14" height="4.02" fill="#7098cb"/><rect x="74.05" y="156.41" width="10.23" height="4.02" fill="#a0c4e0"/><rect x="84.23" y="156.41" width="10.23" height="4.02" fill="#f4f0c4"/><rect x="94.41" y="156.41" width="5.14" height="4.02" fill="#7098cb"/><rect x="99.50" y="156.41" width="10.23" height="4.02" fill="#a0c4e0"/><rect x="109.68" y="156.41" width="5.14" height="4.02" fill="#f4f0c4"/><rect x="114.77" y="156.41" width="20.41" height="4.02" fill="#a0c4e0"/><rect x="135.14" y="156.41" width="5.14" height="4.02" fill="#f9e09a"/><rect x="140.23" y="156.41" width="5.14" height="4.02" fill="#7098cb"/><rect x="145.32" y="156.41" width="10.23" height="4.02" fill="#a0c4e0"/><rect x="155.50" y="156.41" width="5.14" height="4.02" fill="#4673b6"/><rect x="160.59" y="156.41" width="5.14" height="4.02" fill="#a0c4e0"/><rect x="165.68" y="156.41" width="5.14" height="4.02" fill="#f9e09a"/><rect x="170.77" y="156.41" width="5.14" height="4.02" fill="#a0c4e0"/><rect x="175.86" y="156.41" width="5.14" height="4.02" fill="#4673b6"/><rect x="180.95" y="156.41" width="5.14" height="4.02" fill="#7098cb"/><rect x="186.04" y="156.41" width="15.32" height="4.02" fill="#a0c4e0"/><rect x="201.31" y="156.41" width="5.14" height="4.02" fill="#f9e09a"/><rect x="48.60" y="160.38" width="5.14" height="4.02" fill="#7098cb"/><rect x="53.69" y="160.38" width="10.23" height="4.02" fill="#a0c4e0"/><rect x="63.87" y="160.38" width="5.14" height="4.02" fill="#f4f0c4"/><rect x="68.96" y="160.38" width="10.23" height="4.02" fill="#f9e09a"/><rect x="79.14" y="160.38" width="5.14" height="4.02" fill="#a0c4e0"/><rect x="84.23" y="160.38" width="5.14" height="4.02" fill="#f4f0c4"/><rect x="89.32" y="160.38" width="5.14" height="4.02" fill="#a0c4e0"/><rect x="94.41" y="160.38" width="5.14" height="4.02" fill="#7098cb"/><rect x="99.50" y="160.38" width="5.14" height="4.02" fill="#f9e09a"/><rect x="104.59" y="160.38" width="5.14" height="4.02" fill="#7098cb"/><rect x="109.68" y="160.38" width="5.14" height="4.02" fill="#a0c4e0"/><rect x="114.77" y="160.38" width="5.14" height="4.02" fill="#f4f0c4"/><rect x="119.86" y="160.38" width="5.14" height="4.02" fill="#a0c4e0"/><rect x="124.95" y="160.38" width="5.14" height="4.02" fill="#7098cb"/><rect x="130.05" y="160.38" width="10.23" height="4.02" fill="#a0c4e0"/><rect x="140.23" y="160.38" width="5.14" height="4.02" fill="#7098cb"/><rect x="145.32" y="160.38" width="5.14" height="4.02" fill="#a0c4e0"/><rect x="150.41" y="160.38" width="5.14" height="4.02" fill="#7098cb"/><rect x="155.50" y="160.38" width="5.14" height="4.02" fill="#f9e09a"/><rect x="160.59" y="160.38" width="10.23" height="4.02" fill="#a0c4e0"/><rect x="170.77" y="160.38" width="5.14" height="4.02" fill="#7098cb"/><rect x="175.86" y="160.38" width="5.14" height="4.02" fill="#4673b6"/><rect x="180.95" y="160.38" width="10.23" height="4.02" fill="#7098cb"/><rect x="191.13" y="160.38" width="5.14" height="4.02" fill="#a0c4e0"/><rect x="196.22" y="160.38" width="10.23" height="4.02" fill="#7098cb"/><rect x="48.60" y="164.35" width="10.23" height="4.02" fill="#f7f0c4"/><rect x="58.78" y="164.35" width="5.14" height="4.02" fill="#5c8ac4"/><rect x="63.87" y="164.35" width="5.14" height="4.02" fill="#deeaec"/><rect x="68.96" y="164.35" width="5.14" height="4.02" fill="#fbdd96"/><rect x="74.05" y="164.35" width="5.14" height="4.02" fill="#f7f0c4"/><rect x="79.14" y="164.35" width="5.14" height="4.02" fill="#a0c4de"/><rect x="84.23" y="164.35" width="5.14" height="4.02" fill="#f7f0c4"/><rect x="89.32" y="164.35" width="5.14" height="4.02" fill="#a0c4de"/><rect x="94.41" y="164.35" width="5.14" height="4.02" fill="#5c8ac4"/><rect x="99.50" y="164.35" width="5.14" height="4.02" fill="#fbdd96"/><rect x="104.59" y="164.35" width="5.14" height="4.02" fill="#5c8ac4"/><rect x="109.68" y="164.35" width="5.14" height="4.02" fill="#a0c4de"/><rect x="114.77" y="164.35" width="5.14" height="4.02" fill="#fbdd96"/><rect x="119.86" y="164.35" width="5.14" height="4.02" fill="#f7f0c4"/><rect x="124.95" y="164.35" width="5.14" height="4.02" fill="#5c8ac4"/><rect x="130.05" y="164.35" width="5.14" height="4.02" fill="#f7f0c4"/><rect x="135.14" y="164.35" width="5.14" height="4.02" fill="#a0c4de"/><rect x="140.23" y="164.35" width="5.14" height="4.02" fill="#5c8ac4"/><rect x="145.32" y="164.35" width="15.32" height="4.02" fill="#f7f0c4"/><rect x="160.59" y="164.35" width="5.14" height="4.02" fill="#a0c4de"/><rect x="165.68" y="164.35" width="5.14" height="4.02" fill="#f7f0c4"/><rect x="170.77" y="164.35" width="5.14" height="4.02" fill="#a0c4de"/><rect x="175.86" y="164.35" width="5.14" height="4.02" fill="#f7f0c4"/><rect x="180.95" y="164.35" width="5.14" height="4.02" fill="#5c8ac4"/><rect x="186.04" y="164.35" width="5.14" height="4.02" fill="#f7f0c4"/><rect x="191.13" y="164.35" width="5.14" height="4.02" fill="#5c8ac4"/><rect x="196.22" y="164.35" width="10.23" height="4.02" fill="#a0c4de"/><rect x="48.60" y="168.32" width="5.14" height="4.02" fill="#f7f0c4"/><rect x="53.69" y="168.32" width="10.23" height="4.02" fill="#f8b676"/><rect x="63.87" y="168.32" width="5.14" height="4.02" fill="#a0c4de"/><rect x="68.96" y="168.32" width="5.14" height="4.02" fill="#d4382a"/><rect x="74.05" y="168.32" width="5.14" height="4.02" fill="#f8b676"/><rect x="79.14" y="168.32" width="5.14" height="4.02" fill="#a0c4de"/><rect x="84.23" y="168.32" width="5.14" height="4.02" fill="#f8b676"/><rect x="89.32" y="168.32" width="5.14" height="4.02" fill="#f7f0c4"/><rect x="94.41" y="168.32" width="5.14" height="4.02" fill="#5c8ac4"/><rect x="99.50" y="168.32" width="5.14" height="4.02" fill="#f7f0c4"/><rect x="104.59" y="168.32" width="5.14" height="4.02" fill="#a0c4de"/><rect x="109.68" y="168.32" width="5.14" height="4.02" fill="#f7f0c4"/><rect x="114.77" y="168.32" width="5.14" height="4.02" fill="#5c8ac4"/><rect x="119.86" y="168.32" width="5.14" height="4.02" fill="#a0c4de"/><rect x="124.95" y="168.32" width="5.14" height="4.02" fill="#f7f0c4"/><rect x="130.05" y="168.32" width="5.14" height="4.02" fill="#f8b676"/><rect x="135.14" y="168.32" width="5.14" height="4.02" fill="#d4382a"/><rect x="140.23" y="168.32" width="5.14" height="4.02" fill="#5c8ac4"/><rect x="145.32" y="168.32" width="5.14" height="4.02" fill="#fbdd96"/><rect x="150.41" y="168.32" width="5.14" height="4.02" fill="#a0c4de"/><rect x="155.50" y="168.32" width="10.23" height="4.02" fill="#f7f0c4"/><rect x="165.68" y="168.32" width="5.14" height="4.02" fill="#5c8ac4"/><rect x="170.77" y="168.32" width="5.14" height="4.02" fill="#f7f0c4"/><rect x="175.86" y="168.32" width="5.14" height="4.02" fill="#f8b676"/><rect x="180.95" y="168.32" width="5.14" height="4.02" fill="#f7f0c4"/><rect x="186.04" y="168.32" width="5.14" height="4.02" fill="#5c8ac4"/><rect x="191.13" y="168.32" width="5.14" height="4.02" fill="#fbdd96"/><rect x="196.22" y="168.32" width="5.14" height="4.02" fill="#f7f0c4"/><rect x="201.31" y="168.32" width="5.14" height="4.02" fill="#a0c4de"/><rect x="48.60" y="172.29" width="5.14" height="4.02" fill="#f7f0c4"/><rect x="53.69" y="172.29" width="10.23" height="4.02" fill="#f8b676"/><rect x="63.87" y="172.29" width="5.14" height="4.02" fill="#a0c4de"/><rect x="68.96" y="172.29" width="5.14" height="4.02" fill="#ee6c46"/><rect x="74.05" y="172.29" width="5.14" height="4.02" fill="#f8b676"/><rect x="79.14" y="172.29" width="5.14" height="4.02" fill="#f7f0c4"/><rect x="84.23" y="172.29" width="5.14" height="4.02" fill="#f8b676"/><rect x="89.32" y="172.29" width="5.14" height="4.02" fill="#f7f0c4"/><rect x="94.41" y="172.29" width="5.14" height="4.02" fill="#a0c4de"/><rect x="99.50" y="172.29" width="10.23" height="4.02" fill="#fbdd96"/><rect x="109.68" y="172.29" width="5.14" height="4.02" fill="#f7f0c4"/><rect x="114.77" y="172.29" width="5.14" height="4.02" fill="#a0c4de"/><rect x="119.86" y="172.29" width="10.23" height="4.02" fill="#f7f0c4"/><rect x="130.05" y="172.29" width="10.23" height="4.02" fill="#ee6c46"/><rect x="140.23" y="172.29" width="5.14" height="4.02" fill="#a0c4de"/><rect x="145.32" y="172.29" width="5.14" height="4.02" fill="#f7f0c4"/><rect x="150.41" y="172.29" width="5.14" height="4.02" fill="#fbdd96"/><rect x="155.50" y="172.29" width="20.41" height="4.02" fill="#f8b676"/><rect x="175.86" y="172.29" width="5.14" height="4.02" fill="#a0c4de"/><rect x="180.95" y="172.29" width="5.14" height="4.02" fill="#f7f0c4"/><rect x="186.04" y="172.29" width="5.14" height="4.02" fill="#a0c4de"/><rect x="191.13" y="172.29" width="5.14" height="4.02" fill="#fbdd96"/><rect x="196.22" y="172.29" width="5.14" height="4.02" fill="#f7f0c4"/><rect x="201.31" y="172.29" width="5.14" height="4.02" fill="#f8b676"/><rect x="48.60" y="176.25" width="5.14" height="4.02" fill="#f7f0c4"/><rect x="53.69" y="176.25" width="10.23" height="4.02" fill="#fbdd96"/><rect x="63.87" y="176.25" width="5.14" height="4.02" fill="#deeaec"/><rect x="68.96" y="176.25" width="5.14" height="4.02" fill="#f8b676"/><rect x="74.05" y="176.25" width="5.14" height="4.02" fill="#fbdd96"/><rect x="79.14" y="176.25" width="5.14" height="4.02" fill="#f7f0c4"/><rect x="84.23" y="176.25" width="10.23" height="4.02" fill="#fbdd96"/><rect x="94.41" y="176.25" width="5.14" height="4.02" fill="#a0c4de"/><rect x="99.50" y="176.25" width="10.23" height="4.02" fill="#fbdd96"/><rect x="109.68" y="176.25" width="10.23" height="4.02" fill="#f7f0c4"/><rect x="119.86" y="176.25" width="5.14" height="4.02" fill="#5c8ac4"/><rect x="124.95" y="176.25" width="5.14" height="4.02" fill="#f7f0c4"/><rect x="130.05" y="176.25" width="5.14" height="4.02" fill="#fbdd96"/><rect x="135.14" y="176.25" width="5.14" height="4.02" fill="#f7f0c4"/><rect x="140.23" y="176.25" width="5.14" height="4.02" fill="#d4382a"/><rect x="145.32" y="176.25" width="5.14" height="4.02" fill="#f8b676"/><rect x="150.41" y="176.25" width="15.32" height="4.02" fill="#fbdd96"/><rect x="165.68" y="176.25" width="10.23" height="4.02" fill="#f8b676"/><rect x="175.86" y="176.25" width="15.32" height="4.02" fill="#fbdd96"/><rect x="191.13" y="176.25" width="15.32" height="4.02" fill="#f7f0c4"/><rect x="48.60" y="180.22" width="15.32" height="4.02" fill="#fbdd96"/><rect x="63.87" y="180.22" width="5.14" height="4.02" fill="#deeaec"/><rect x="68.96" y="180.22" width="10.23" height="4.02" fill="#f8b676"/><rect x="79.14" y="180.22" width="5.14" height="4.02" fill="#f7f0c4"/><rect x="84.23" y="180.22" width="10.23" height="4.02" fill="#fbdd96"/><rect x="94.41" y="180.22" width="5.14" height="4.02" fill="#a0c4de"/><rect x="99.50" y="180.22" width="5.14" height="4.02" fill="#f7f0c4"/><rect x="104.59" y="180.22" width="5.14" height="4.02" fill="#fbdd96"/><rect x="109.68" y="180.22" width="10.23" height="4.02" fill="#f7f0c4"/><rect x="119.86" y="180.22" width="5.14" height="4.02" fill="#5c8ac4"/><rect x="124.95" y="180.22" width="15.32" height="4.02" fill="#f7f0c4"/><rect x="140.23" y="180.22" width="5.14" height="4.02" fill="#d4382a"/><rect x="145.32" y="180.22" width="5.14" height="4.02" fill="#f7f0c4"/><rect x="150.41" y="180.22" width="5.14" height="4.02" fill="#a0c4de"/><rect x="155.50" y="180.22" width="5.14" height="4.02" fill="#5c8ac4"/><rect x="160.59" y="180.22" width="25.50" height="4.02" fill="#fbdd96"/><rect x="186.04" y="180.22" width="5.14" height="4.02" fill="#f7f0c4"/><rect x="191.13" y="180.22" width="5.14" height="4.02" fill="#fbdd96"/><rect x="196.22" y="180.22" width="10.23" height="4.02" fill="#f7f0c4"/><rect x="48.60" y="184.19" width="5.14" height="4.02" fill="#f7f0c4"/><rect x="53.69" y="184.19" width="10.23" height="4.02" fill="#f8b676"/><rect x="63.87" y="184.19" width="5.14" height="4.02" fill="#deeaec"/><rect x="68.96" y="184.19" width="5.14" height="4.02" fill="#fbdd96"/><rect x="74.05" y="184.19" width="5.14" height="4.02" fill="#a0c4de"/><rect x="79.14" y="184.19" width="5.14" height="4.02" fill="#fbdd96"/><rect x="84.23" y="184.19" width="10.23" height="4.02" fill="#f7f0c4"/><rect x="94.41" y="184.19" width="5.14" height="4.02" fill="#a0c4de"/><rect x="99.50" y="184.19" width="5.14" height="4.02" fill="#fbdd96"/><rect x="104.59" y="184.19" width="5.14" height="4.02" fill="#f8b676"/><rect x="109.68" y="184.19" width="5.14" height="4.02" fill="#f7f0c4"/><rect x="114.77" y="184.19" width="5.14" height="4.02" fill="#fbdd96"/><rect x="119.86" y="184.19" width="10.23" height="4.02" fill="#f7f0c4"/><rect x="130.05" y="184.19" width="5.14" height="4.02" fill="#fbdd96"/><rect x="135.14" y="184.19" width="5.14" height="4.02" fill="#a0c4de"/><rect x="140.23" y="184.19" width="5.14" height="4.02" fill="#f7f0c4"/><rect x="145.32" y="184.19" width="5.14" height="4.02" fill="#a0c4de"/><rect x="150.41" y="184.19" width="5.14" height="4.02" fill="#5c8ac4"/><rect x="155.50" y="184.19" width="5.14" height="4.02" fill="#f7f0c4"/><rect x="160.59" y="184.19" width="5.14" height="4.02" fill="#f8b676"/><rect x="165.68" y="184.19" width="5.14" height="4.02" fill="#fbdd96"/><rect x="170.77" y="184.19" width="5.14" height="4.02" fill="#f7f0c4"/><rect x="175.86" y="184.19" width="5.14" height="4.02" fill="#fbdd96"/><rect x="180.95" y="184.19" width="5.14" height="4.02" fill="#f7f0c4"/><rect x="186.04" y="184.19" width="5.14" height="4.02" fill="#fbdd96"/><rect x="191.13" y="184.19" width="5.14" height="4.02" fill="#f7f0c4"/><rect x="196.22" y="184.19" width="5.14" height="4.02" fill="#fbdd96"/><rect x="201.31" y="184.19" width="5.14" height="4.02" fill="#f7f0c4"/><rect x="48.60" y="188.16" width="5.14" height="4.02" fill="#f7f0c4"/><rect x="53.69" y="188.16" width="10.23" height="4.02" fill="#fbdd96"/><rect x="63.87" y="188.16" width="5.14" height="4.02" fill="#deeaec"/><rect x="68.96" y="188.16" width="10.23" height="4.02" fill="#fbdd96"/><rect x="79.14" y="188.16" width="5.14" height="4.02" fill="#f7f0c4"/><rect x="84.23" y="188.16" width="5.14" height="4.02" fill="#fbdd96"/><rect x="89.32" y="188.16" width="5.14" height="4.02" fill="#f7f0c4"/><rect x="94.41" y="188.16" width="5.14" height="4.02" fill="#a0c4de"/><rect x="99.50" y="188.16" width="15.32" height="4.02" fill="#fbdd96"/><rect x="114.77" y="188.16" width="5.14" height="4.02" fill="#f7f0c4"/><rect x="119.86" y="188.16" width="5.14" height="4.02" fill="#fbdd96"/><rect x="124.95" y="188.16" width="5.14" height="4.02" fill="#f7f0c4"/><rect x="130.05" y="188.16" width="5.14" height="4.02" fill="#fbdd96"/><rect x="135.14" y="188.16" width="5.14" height="4.02" fill="#f7f0c4"/><rect x="140.23" y="188.16" width="5.14" height="4.02" fill="#fbdd96"/><rect x="145.32" y="188.16" width="5.14" height="4.02" fill="#ee6c46"/><rect x="150.41" y="188.16" width="5.14" height="4.02" fill="#a0c4de"/><rect x="155.50" y="188.16" width="15.32" height="4.02" fill="#fbdd96"/><rect x="170.77" y="188.16" width="5.14" height="4.02" fill="#f7f0c4"/><rect x="175.86" y="188.16" width="15.32" height="4.02" fill="#fbdd96"/><rect x="191.13" y="188.16" width="5.14" height="4.02" fill="#f7f0c4"/><rect x="196.22" y="188.16" width="5.14" height="4.02" fill="#fbdd96"/><rect x="201.31" y="188.16" width="5.14" height="4.02" fill="#f7f0c4"/><rect x="48.60" y="192.13" width="5.14" height="4.02" fill="#f7f0c4"/><rect x="53.69" y="192.13" width="10.23" height="4.02" fill="#fbdd96"/><rect x="63.87" y="192.13" width="5.14" height="4.02" fill="#f7f0c4"/><rect x="68.96" y="192.13" width="5.14" height="4.02" fill="#fbdd96"/><rect x="74.05" y="192.13" width="10.23" height="4.02" fill="#f7f0c4"/><rect x="84.23" y="192.13" width="5.14" height="4.02" fill="#f8b676"/><rect x="89.32" y="192.13" width="10.23" height="4.02" fill="#f7f0c4"/><rect x="99.50" y="192.13" width="10.23" height="4.02" fill="#fbdd96"/><rect x="109.68" y="192.13" width="5.14" height="4.02" fill="#f7f0c4"/><rect x="114.77" y="192.13" width="5.14" height="4.02" fill="#fbdd96"/><rect x="119.86" y="192.13" width="5.14" height="4.02" fill="#f8b676"/><rect x="124.95" y="192.13" width="25.50" height="4.02" fill="#fbdd96"/><rect x="150.41" y="192.13" width="5.14" height="4.02" fill="#f7f0c4"/><rect x="155.50" y="192.13" width="15.32" height="4.02" fill="#fbdd96"/><rect x="170.77" y="192.13" width="5.14" height="4.02" fill="#f7f0c4"/><rect x="175.86" y="192.13" width="10.23" height="4.02" fill="#fbdd96"/><rect x="186.04" y="192.13" width="5.14" height="4.02" fill="#f7f0c4"/><rect x="191.13" y="192.13" width="5.14" height="4.02" fill="#fbdd96"/><rect x="196.22" y="192.13" width="10.23" height="4.02" fill="#f7f0c4"/><rect x="48.60" y="196.10" width="5.14" height="4.02" fill="#4673b6"/><rect x="53.69" y="196.10" width="5.14" height="4.02" fill="#deeaec"/><rect x="58.78" y="196.10" width="10.23" height="4.02" fill="#fbdd96"/><rect x="68.96" y="196.10" width="5.14" height="4.02" fill="#f8b676"/><rect x="74.05" y="196.10" width="5.14" height="4.02" fill="#4673b6"/><rect x="79.14" y="196.10" width="10.23" height="4.02" fill="#a0c4de"/><rect x="89.32" y="196.10" width="5.14" height="4.02" fill="#f7f0c4"/><rect x="94.41" y="196.10" width="5.14" height="4.02" fill="#a0c4de"/><rect x="99.50" y="196.10" width="5.14" height="4.02" fill="#f8b676"/><rect x="104.59" y="196.10" width="5.14" height="4.02" fill="#a0c4de"/><rect x="109.68" y="196.10" width="5.14" height="4.02" fill="#f7f0c4"/><rect x="114.77" y="196.10" width="5.14" height="4.02" fill="#4673b6"/><rect x="119.86" y="196.10" width="5.14" height="4.02" fill="#f8b676"/><rect x="124.95" y="196.10" width="5.14" height="4.02" fill="#4673b6"/><rect x="130.05" y="196.10" width="5.14" height="4.02" fill="#a0c4de"/><rect x="135.14" y="196.10" width="5.14" height="4.02" fill="#d4382a"/><rect x="140.23" y="196.10" width="5.14" height="4.02" fill="#fbdd96"/><rect x="145.32" y="196.10" width="5.14" height="4.02" fill="#a0c4de"/><rect x="150.41" y="196.10" width="15.32" height="4.02" fill="#4673b6"/><rect x="165.68" y="196.10" width="10.23" height="4.02" fill="#a0c4de"/><rect x="175.86" y="196.10" width="5.14" height="4.02" fill="#f7f0c4"/><rect x="180.95" y="196.10" width="5.14" height="4.02" fill="#fbdd96"/><rect x="186.04" y="196.10" width="5.14" height="4.02" fill="#4673b6"/><rect x="191.13" y="196.10" width="5.14" height="4.02" fill="#a0c4de"/><rect x="196.22" y="196.10" width="5.14" height="4.02" fill="#f7f0c4"/><rect x="201.31" y="196.10" width="5.14" height="4.02" fill="#4673b6"/><rect x="48.60" y="200.06" width="10.23" height="4.02" fill="#a0c4de"/><rect x="58.78" y="200.06" width="10.23" height="4.02" fill="#f7f0c4"/><rect x="68.96" y="200.06" width="5.14" height="4.02" fill="#4673b6"/><rect x="74.05" y="200.06" width="5.14" height="4.02" fill="#d4382a"/><rect x="79.14" y="200.06" width="5.14" height="4.02" fill="#f7f0c4"/><rect x="84.23" y="200.06" width="5.14" height="4.02" fill="#a0c4de"/><rect x="89.32" y="200.06" width="5.14" height="4.02" fill="#fbdd96"/><rect x="94.41" y="200.06" width="5.14" height="4.02" fill="#4673b6"/><rect x="99.50" y="200.06" width="5.14" height="4.02" fill="#5c8ac4"/><rect x="104.59" y="200.06" width="5.14" height="4.02" fill="#f7f0c4"/><rect x="109.68" y="200.06" width="5.14" height="4.02" fill="#a0c4de"/><rect x="114.77" y="200.06" width="5.14" height="4.02" fill="#ee6c46"/><rect x="119.86" y="200.06" width="5.14" height="4.02" fill="#5c8ac4"/><rect x="124.95" y="200.06" width="5.14" height="4.02" fill="#a0c4de"/><rect x="130.05" y="200.06" width="5.14" height="4.02" fill="#5c8ac4"/><rect x="135.14" y="200.06" width="10.23" height="4.02" fill="#a0c4de"/><rect x="145.32" y="200.06" width="5.14" height="4.02" fill="#f7f0c4"/><rect x="150.41" y="200.06" width="5.14" height="4.02" fill="#a0c4de"/><rect x="155.50" y="200.06" width="10.23" height="4.02" fill="#5c8ac4"/><rect x="165.68" y="200.06" width="5.14" height="4.02" fill="#f7f0c4"/><rect x="170.77" y="200.06" width="10.23" height="4.02" fill="#fbdd96"/><rect x="180.95" y="200.06" width="5.14" height="4.02" fill="#f7f0c4"/><rect x="186.04" y="200.06" width="5.14" height="4.02" fill="#fbdd96"/><rect x="191.13" y="200.06" width="10.23" height="4.02" fill="#a0c4de"/><rect x="201.31" y="200.06" width="5.14" height="4.02" fill="#5c8ac4"/><rect x="48.60" y="204.03" width="10.23" height="4.02" fill="#f7f0c4"/><rect x="58.78" y="204.03" width="10.23" height="4.02" fill="#a0c4de"/><rect x="68.96" y="204.03" width="5.14" height="4.02" fill="#4673b6"/><rect x="74.05" y="204.03" width="5.14" height="4.02" fill="#5c8ac4"/><rect x="79.14" y="204.03" width="5.14" height="4.02" fill="#f7f0c4"/><rect x="84.23" y="204.03" width="5.14" height="4.02" fill="#a0c4de"/><rect x="89.32" y="204.03" width="5.14" height="4.02" fill="#fbdd96"/><rect x="94.41" y="204.03" width="10.23" height="4.02" fill="#5c8ac4"/><rect x="104.59" y="204.03" width="5.14" height="4.02" fill="#fbdd96"/><rect x="109.68" y="204.03" width="15.32" height="4.02" fill="#a0c4de"/><rect x="124.95" y="204.03" width="5.14" height="4.02" fill="#fbdd96"/><rect x="130.05" y="204.03" width="10.23" height="4.02" fill="#5c8ac4"/><rect x="140.23" y="204.03" width="5.14" height="4.02" fill="#f7f0c4"/><rect x="145.32" y="204.03" width="5.14" height="4.02" fill="#a0c4de"/><rect x="150.41" y="204.03" width="5.14" height="4.02" fill="#5c8ac4"/><rect x="155.50" y="204.03" width="5.14" height="4.02" fill="#a0c4de"/><rect x="160.59" y="204.03" width="5.14" height="4.02" fill="#f8b676"/><rect x="165.68" y="204.03" width="5.14" height="4.02" fill="#a0c4de"/><rect x="170.77" y="204.03" width="5.14" height="4.02" fill="#f8b676"/><rect x="175.86" y="204.03" width="15.32" height="4.02" fill="#a0c4de"/><rect x="191.13" y="204.03" width="5.14" height="4.02" fill="#5c8ac4"/><rect x="196.22" y="204.03" width="5.14" height="4.02" fill="#a0c4de"/><rect x="201.31" y="204.03" width="5.14" height="4.02" fill="#5c8ac4"/><rect x="135.14" y="100.00" width="5.09" height="1.80" fill="#d4382a"/><rect x="150.41" y="91.60" width="5.09" height="1.70" fill="#d4382a"/><rect x="68.96" y="149.70" width="5.09" height="1.50" fill="#d4382a"/><rect x="79.14" y="197.60" width="5.09" height="2.00" fill="#ee6c46"/><rect x="109.68" y="198.00" width="5.09" height="1.50" fill="#ee6c46"/><rect x="145.32" y="176.60" width="5.09" height="1.40" fill="#f28c56"/><rect x="155.50" y="176.60" width="5.09" height="1.40" fill="#f28c56"/><rect x="160.59" y="176.60" width="5.09" height="1.40" fill="#f28c56"/><rect x="170.77" y="176.60" width="5.09" height="1.40" fill="#f28c56"/><rect x="175.86" y="176.60" width="5.09" height="1.40" fill="#f28c56"/><rect x="155.50" y="103.20" width="5.09" height="1.60" fill="#e2ecf0"/><rect x="175.86" y="101.60" width="5.09" height="1.50" fill="#f4f0c4"/><rect x="160.59" y="108.50" width="5.09" height="1.60" fill="#f9e09a"/></g>
<path d="M48.60 33.40V208.00M53.69 33.40V208.00M58.78 33.40V208.00M63.87 33.40V208.00M68.96 33.40V208.00M74.05 33.40V208.00M79.14 33.40V208.00M84.23 33.40V208.00M89.32 33.40V208.00M94.41 33.40V208.00M99.50 33.40V208.00M104.59 33.40V208.00M109.68 33.40V208.00M114.77 33.40V208.00M119.86 33.40V208.00M124.95 33.40V208.00M130.05 33.40V208.00M135.14 33.40V208.00M140.23 33.40V208.00M145.32 33.40V208.00M150.41 33.40V208.00M155.50 33.40V208.00M160.59 33.40V208.00M165.68 33.40V208.00M170.77 33.40V208.00M175.86 33.40V208.00M180.95 33.40V208.00M186.04 33.40V208.00M191.13 33.40V208.00M196.22 33.40V208.00M201.31 33.40V208.00M206.40 33.40V208.00" stroke="#9a9a9a" stroke-width="0.45" stroke-opacity="0.55" fill="none"/>
<path d="M48.60 33.40H206.40M48.60 34.72H206.40M48.60 36.05H206.40M48.60 37.37H206.40M48.60 38.69H206.40M48.60 40.01H206.40M48.60 41.34H206.40M48.60 42.66H206.40M48.60 43.98H206.40M48.60 45.30H206.40M48.60 46.63H206.40M48.60 47.95H206.40M48.60 49.27H206.40M48.60 50.60H206.40M48.60 51.92H206.40M48.60 53.24H206.40M48.60 54.56H206.40M48.60 55.89H206.40M48.60 57.21H206.40M48.60 58.53H206.40M48.60 59.85H206.40M48.60 61.18H206.40M48.60 62.50H206.40M48.60 63.82H206.40M48.60 65.15H206.40M48.60 66.47H206.40M48.60 67.79H206.40M48.60 69.11H206.40M48.60 70.44H206.40M48.60 71.76H206.40M48.60 73.08H206.40M48.60 74.40H206.40M48.60 75.73H206.40M48.60 77.05H206.40M48.60 78.37H206.40M48.60 79.70H206.40M48.60 81.02H206.40M48.60 82.34H206.40M48.60 83.66H206.40M48.60 84.99H206.40M48.60 86.31H206.40M48.60 87.63H206.40M48.60 88.95H206.40M48.60 90.28H206.40M48.60 91.60H206.40M48.60 92.92H206.40M48.60 94.25H206.40M48.60 95.57H206.40M48.60 96.89H206.40M48.60 98.21H206.40M48.60 99.54H206.40M48.60 100.86H206.40M48.60 102.18H206.40M48.60 103.50H206.40M48.60 104.83H206.40M48.60 106.15H206.40M48.60 107.47H206.40M48.60 108.80H206.40M48.60 110.12H206.40M48.60 111.44H206.40M48.60 112.76H206.40M48.60 114.09H206.40M48.60 115.41H206.40M48.60 116.73H206.40M48.60 118.05H206.40M48.60 119.38H206.40M48.60 120.70H206.40M48.60 122.02H206.40M48.60 123.35H206.40M48.60 124.67H206.40M48.60 125.99H206.40M48.60 127.31H206.40M48.60 128.64H206.40M48.60 129.96H206.40M48.60 131.28H206.40M48.60 132.60H206.40M48.60 133.93H206.40M48.60 135.25H206.40M48.60 136.57H206.40M48.60 137.90H206.40M48.60 139.22H206.40M48.60 140.54H206.40M48.60 141.86H206.40M48.60 143.19H206.40M48.60 144.51H206.40M48.60 145.83H206.40M48.60 147.15H206.40M48.60 148.48H206.40M48.60 149.80H206.40M48.60 151.12H206.40M48.60 152.45H206.40M48.60 153.77H206.40M48.60 155.09H206.40M48.60 156.41H206.40M48.60 157.74H206.40M48.60 159.06H206.40M48.60 160.38H206.40M48.60 161.70H206.40M48.60 163.03H206.40M48.60 164.35H206.40M48.60 165.67H206.40M48.60 167.00H206.40M48.60 168.32H206.40M48.60 169.64H206.40M48.60 170.96H206.40M48.60 172.29H206.40M48.60 173.61H206.40M48.60 174.93H206.40M48.60 176.25H206.40M48.60 177.58H206.40M48.60 178.90H206.40M48.60 180.22H206.40M48.60 181.55H206.40M48.60 182.87H206.40M48.60 184.19H206.40M48.60 185.51H206.40M48.60 186.84H206.40M48.60 188.16H206.40M48.60 189.48H206.40M48.60 190.80H206.40M48.60 192.13H206.40M48.60 193.45H206.40M48.60 194.77H206.40M48.60 196.10H206.40M48.60 197.42H206.40M48.60 198.74H206.40M48.60 200.06H206.40M48.60 201.39H206.40M48.60 202.71H206.40M48.60 204.03H206.40M48.60 205.35H206.40M48.60 206.68H206.40M48.60 208.00H206.40" stroke="#a8a8a8" stroke-width="0.3" stroke-opacity="0.35" fill="none"/>
<rect x="209.2" y="33.9" width="5.6" height="75.2" fill="url(#cb)"/>
<text x="217.1" y="36.1" font-size="5" fill="#111">100</text>
<text x="217.1" y="51.0" font-size="5" fill="#111">80</text>
<text x="217.1" y="65.9" font-size="5" fill="#111">60</text>
<text x="217.1" y="80.8" font-size="5" fill="#111">40</text>
<text x="217.1" y="95.7" font-size="5" fill="#111">20</text>
<text x="217.1" y="110.6" font-size="5" fill="#111">0</text>
<text x="226.9" y="37.8" font-size="4.9" font-weight="bold" fill="#111" textLength="18.4" lengthAdjust="spacingAndGlyphs">Disease</text>
<rect x="226.5" y="39.1" width="7.2" height="7" fill="#bb2226"/>
<rect x="226.5" y="46.1" width="7.2" height="7" fill="#0e1a86"/>
<text x="235.1" y="44.4" font-size="5.1" fill="#222" textLength="14.4" lengthAdjust="spacingAndGlyphs">OSCC</text>
<text x="235.1" y="51.8" font-size="5.1" fill="#222" textLength="11.7" lengthAdjust="spacingAndGlyphs">OMD</text>
</g>
<g id="panelB">
<text x="379.2" y="19.8" text-anchor="middle" class="b" font-size="6.8">B</text>
<rect x="297.50" y="27.65" width="10.29" height="2.90" fill="#4472c4"/>
<text x="279.00" y="31.20" class="t" font-size="6.1" textLength="12.9" lengthAdjust="spacingAndGlyphs">chr22</text>
<rect x="297.50" y="35.76" width="10.29" height="2.90" fill="#4472c4"/>
<rect x="307.79" y="35.76" width="34.99" height="2.90" fill="#ed7d31"/>
<text x="279.00" y="39.31" class="t" font-size="6.1" textLength="12.9" lengthAdjust="spacingAndGlyphs">chr21</text>
<rect x="297.50" y="43.87" width="105.30" height="2.90" fill="#ed7d31"/>
<text x="279.00" y="47.42" class="t" font-size="6.1" textLength="12.9" lengthAdjust="spacingAndGlyphs">chr20</text>
<rect x="297.50" y="51.98" width="62.22" height="2.90" fill="#4472c4"/>
<text x="279.00" y="55.53" class="t" font-size="6.1" textLength="12.9" lengthAdjust="spacingAndGlyphs">chr19</text>
<rect x="297.50" y="60.09" width="10.29" height="2.90" fill="#4472c4"/>
<text x="279.00" y="63.64" class="t" font-size="6.1" textLength="12.9" lengthAdjust="spacingAndGlyphs">chr18</text>
<rect x="297.50" y="68.20" width="10.29" height="2.90" fill="#4472c4"/>
<text x="279.00" y="71.75" class="t" font-size="6.1" textLength="12.9" lengthAdjust="spacingAndGlyphs">chr16</text>
<rect x="297.50" y="76.31" width="10.29" height="2.90" fill="#4472c4"/>
<rect x="307.79" y="76.31" width="87.60" height="2.90" fill="#ed7d31"/>
<text x="279.00" y="79.86" class="t" font-size="6.1" textLength="12.9" lengthAdjust="spacingAndGlyphs">chr15</text>
<rect x="297.50" y="84.42" width="41.50" height="2.90" fill="#4472c4"/>
<rect x="339.00" y="84.42" width="52.89" height="2.90" fill="#ed7d31"/>
<text x="279.00" y="87.97" class="t" font-size="6.1" textLength="12.9" lengthAdjust="spacingAndGlyphs">chr14</text>
<rect x="297.50" y="92.53" width="72.58" height="2.90" fill="#4472c4"/>
<rect x="370.08" y="92.53" width="17.29" height="2.90" fill="#ed7d31"/>
<text x="279.00" y="96.08" class="t" font-size="6.1" textLength="12.9" lengthAdjust="spacingAndGlyphs">chr13</text>
<rect x="297.50" y="100.64" width="30.87" height="2.90" fill="#4472c4"/>
<text x="279.00" y="104.19" class="t" font-size="6.1" textLength="12.9" lengthAdjust="spacingAndGlyphs">chr11</text>
<rect x="297.50" y="108.75" width="62.22" height="2.90" fill="#4472c4"/>
<rect x="359.72" y="108.75" width="34.85" height="2.90" fill="#ed7d31"/>
<text x="279.00" y="112.30" class="t" font-size="6.1" textLength="12.9" lengthAdjust="spacingAndGlyphs">chr10</text>
<rect x="297.50" y="116.86" width="30.87" height="2.90" fill="#4472c4"/>
<rect x="328.37" y="116.86" width="17.70" height="2.90" fill="#ed7d31"/>
<text x="281.90" y="120.41" class="t" font-size="6.1" textLength="10.0" lengthAdjust="spacingAndGlyphs">chr9</text>
<rect x="297.50" y="124.97" width="20.58" height="2.90" fill="#4472c4"/>
<rect x="318.08" y="124.97" width="35.19" height="2.90" fill="#ed7d31"/>
<text x="281.90" y="128.52" class="t" font-size="6.1" textLength="10.0" lengthAdjust="spacingAndGlyphs">chr8</text>
<rect x="297.50" y="133.08" width="10.29" height="2.90" fill="#4472c4"/>
<text x="281.90" y="136.63" class="t" font-size="6.1" textLength="10.0" lengthAdjust="spacingAndGlyphs">chr7</text>
<rect x="297.50" y="141.19" width="10.29" height="2.90" fill="#4472c4"/>
<rect x="307.79" y="141.19" width="17.56" height="2.90" fill="#ed7d31"/>
<text x="281.90" y="144.74" class="t" font-size="6.1" textLength="10.0" lengthAdjust="spacingAndGlyphs">chr6</text>
<rect x="297.50" y="149.30" width="62.22" height="2.90" fill="#4472c4"/>
<rect x="359.72" y="149.30" width="158.33" height="2.90" fill="#ed7d31"/>
<text x="281.90" y="152.85" class="t" font-size="6.1" textLength="10.0" lengthAdjust="spacingAndGlyphs">chr5</text>
<rect x="297.50" y="157.41" width="34.71" height="2.90" fill="#ed7d31"/>
<text x="281.90" y="160.96" class="t" font-size="6.1" textLength="10.0" lengthAdjust="spacingAndGlyphs">chr4</text>
<rect x="297.50" y="165.52" width="20.58" height="2.90" fill="#4472c4"/>
<text x="281.90" y="169.07" class="t" font-size="6.1" textLength="10.0" lengthAdjust="spacingAndGlyphs">chr3</text>
<rect x="297.50" y="173.63" width="41.50" height="2.90" fill="#4472c4"/>
<rect x="339.00" y="173.63" width="52.89" height="2.90" fill="#ed7d31"/>
<text x="281.90" y="177.18" class="t" font-size="6.1" textLength="10.0" lengthAdjust="spacingAndGlyphs">chr2</text>
<rect x="297.50" y="181.74" width="166.01" height="2.90" fill="#4472c4"/>
<rect x="463.51" y="181.74" width="35.40" height="2.90" fill="#ed7d31"/>
<text x="281.90" y="185.29" class="t" font-size="6.1" textLength="10.0" lengthAdjust="spacingAndGlyphs">chr1</text>
<path d="M297.3 25V188" stroke="#d9d9d9" stroke-width="0.5" fill="none"/>
<text x="297.50" y="196.9" text-anchor="middle" class="t">0</text>
<text x="331.80" y="196.9" text-anchor="middle" class="t">5</text>
<text x="366.10" y="196.9" text-anchor="middle" class="t">10</text>
<text x="400.40" y="196.9" text-anchor="middle" class="t">15</text>
<text x="434.70" y="196.9" text-anchor="middle" class="t">20</text>
<text x="469.00" y="196.9" text-anchor="middle" class="t">25</text>
<text x="503.30" y="196.9" text-anchor="middle" class="t">30</text>
<text x="537.60" y="196.9" text-anchor="middle" class="t">35</text>
<text x="417.8" y="205.9" text-anchor="middle" font-size="5.9" font-weight="bold" fill="#404040" textLength="54" lengthAdjust="spacingAndGlyphs">Percentage of DMRs</text>
<text transform="translate(275.6 124.5) rotate(-90)" font-size="6.6" font-weight="bold" fill="#404040" textLength="36.5" lengthAdjust="spacingAndGlyphs">Chromosomes</text>
<rect x="360.9" y="217.9" width="2.7" height="2.7" fill="#4472c4"/>
<text x="365.2" y="221.1" font-size="5.6" fill="#595959" textLength="37.2" lengthAdjust="spacingAndGlyphs">Hypermethylated</text>
<rect x="410" y="217.9" width="2.7" height="2.7" fill="#ed7d31"/>
<text x="414.3" y="221.1" font-size="5.6" fill="#595959" textLength="36" lengthAdjust="spacingAndGlyphs">Hypomethylated</text>
</g>
<g id="panelC">
<text x="131.1" y="258" text-anchor="middle" class="b" font-size="6.8">C</text>
<path d="M211.00 315.90A90.00 43.30 0 0 1 199.95 336.69L198.89 357.24A88.80 43.20 0 0 0 209.80 336.50Z" fill="#1c2f5e"/><path d="M199.95 336.69A90.00 43.30 0 0 1 88.73 356.32L89.16 376.83A88.80 43.20 0 0 0 198.89 357.24Z" fill="url(#gOr)"/><path d="M88.73 356.32A90.00 43.30 0 0 1 45.09 339.16L46.10 359.71A88.80 43.20 0 0 0 89.16 376.83Z" fill="url(#gGr)"/><path d="M45.09 339.16A90.00 43.30 0 0 1 31.00 315.90L32.20 336.50A88.80 43.20 0 0 0 46.10 359.71Z" fill="#d5a000"/><path d="M199.95 336.69L198.89 357.24M88.73 356.32L89.16 376.83M45.09 339.16L46.10 359.71" stroke="#fff" stroke-width="0.5" stroke-opacity="0.6" fill="none"/><path d="M121.00 307.60L121.00 272.60A90.00 43.30 0 0 1 199.95 336.69Z" fill="#4472c4" stroke="#fff" stroke-width="0.45" stroke-opacity="0.8"/><path d="M121.00 307.60L199.95 336.69A90.00 43.30 0 0 1 88.73 356.32Z" fill="#ed7d31" stroke="#fff" stroke-width="0.45" stroke-opacity="0.8"/><path d="M121.00 307.60L88.73 356.32A90.00 43.30 0 0 1 45.09 339.16Z" fill="#a5a5a5" stroke="#fff" stroke-width="0.45" stroke-opacity="0.8"/><path d="M121.00 307.60L45.09 339.16A90.00 43.30 0 0 1 121.00 272.60Z" fill="#ffc000" stroke="#fff" stroke-width="0.45" stroke-opacity="0.8"/>
<text x="206.7" y="292.6" text-anchor="middle" class="t" font-size="5.6">35.56</text>
<text x="161.3" y="387.3" text-anchor="middle" class="t" font-size="5.6">19.26</text>
<text x="55.9" y="377.3" text-anchor="middle" class="t" font-size="5.6">8.89</text>
<text x="35.3" y="295.3" text-anchor="middle" class="t" font-size="5.6">36.3</text>
<rect x="61.9" y="401.1" width="2.4" height="2.4" fill="#4472c4"/>
<text x="66.9" y="404.2" class="t" textLength="24.8" lengthAdjust="spacingAndGlyphs">promoter</text>
<rect x="98.7" y="401.1" width="2.4" height="2.4" fill="#ed7d31"/>
<text x="103.7" y="404.2" class="t" textLength="12.6" lengthAdjust="spacingAndGlyphs">exon</text>
<rect x="123.0" y="401.1" width="2.4" height="2.4" fill="#a5a5a5"/>
<text x="128.3" y="404.2" class="t" textLength="15.8" lengthAdjust="spacingAndGlyphs">intron</text>
<rect x="151.1" y="401.1" width="2.4" height="2.4" fill="#ffc000"/>
<text x="155.8" y="404.2" class="t" textLength="25.9" lengthAdjust="spacingAndGlyphs">intergenic</text>
</g>
<g id="panelD">
<text x="389.3" y="267.2" text-anchor="middle" class="b" font-size="6.8">D</text>
<path d="M485.90 331.80A95.30 44.30 0 0 1 295.30 331.80L296.60 352.30A94.00 44.20 0 0 0 484.60 352.30Z" fill="url(#gBl)"/><path d="M390.60 323.40L390.60 287.50A95.30 44.30 0 1 1 295.43 329.48Z" fill="#4472c4" stroke="#fff" stroke-width="0.45" stroke-opacity="0.8"/><path d="M390.60 323.40L295.43 329.48A95.30 44.30 0 0 1 310.64 307.70Z" fill="#a5a5a5" stroke="#fff" stroke-width="0.45" stroke-opacity="0.8"/><path d="M390.60 323.40L310.64 307.70A95.30 44.30 0 0 1 390.60 287.50Z" fill="#5b9bd5" stroke="#fff" stroke-width="0.45" stroke-opacity="0.8"/>
<text x="337" y="291.3" text-anchor="middle" class="t" font-size="5.6">18.52</text>
<text x="283" y="320.7" class="t" font-size="5.6">8.89</text>
<text x="478.8" y="380.9" text-anchor="middle" class="t" font-size="5.6">72.59</text>
<rect x="356.8" y="419.4" width="2.4" height="2.4" fill="#4472c4"/>
<text x="361.6" y="422.6" class="t" textLength="13.4" lengthAdjust="spacingAndGlyphs">CpGi</text>
<rect x="380.4" y="419.4" width="2.4" height="2.4" fill="#a5a5a5"/>
<text x="385.0" y="422.6" class="t" textLength="17.0" lengthAdjust="spacingAndGlyphs">shores</text>
<rect x="408.4" y="419.4" width="2.4" height="2.4" fill="#5b9bd5"/>
<text x="413.0" y="422.6" class="t" textLength="14.0" lengthAdjust="spacingAndGlyphs">other</text>
</g>
</svg></body></html>
